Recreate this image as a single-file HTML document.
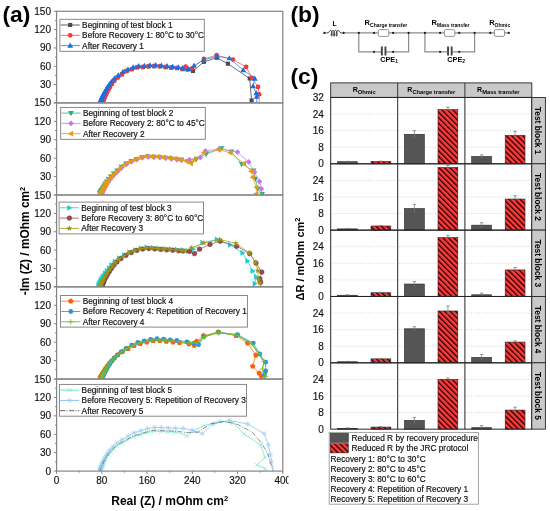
<!DOCTYPE html>
<html><head><meta charset="utf-8"><title>Figure</title><style>html,body{margin:0;padding:0;background:#fff}svg{display:block}</style></head><body>
<svg width="550" height="511" viewBox="0 0 550 511" font-family="'Liberation Sans', Arial, sans-serif">
<rect width="550" height="511" fill="#fff"/>
<defs>
<clipPath id="c0"><rect x="56.6" y="11.3" width="226.20" height="91.60"/></clipPath>
<clipPath id="c1"><rect x="56.6" y="102.9" width="226.20" height="92.10"/></clipPath>
<clipPath id="c2"><rect x="56.6" y="195.0" width="226.20" height="91.85"/></clipPath>
<clipPath id="c3"><rect x="56.6" y="286.85" width="226.20" height="92.20"/></clipPath>
<clipPath id="c4"><rect x="56.6" y="379.05" width="226.20" height="92.05"/></clipPath>
<pattern id="hatch" patternUnits="userSpaceOnUse" width="3.9" height="3.9" patternTransform="rotate(-45)"><rect width="3.9" height="3.9" fill="#ff3a3a"/><rect x="0" y="0" width="1.3" height="3.9" fill="#1a0000"/></pattern>
<clipPath id="cl400"><rect x="0" y="0" width="288.6" height="511"/></clipPath>
</defs>
<text x="2.4" y="22.1" font-size="22.8" font-weight="bold">(a)</text>
<g clip-path="url(#c0)">
<path d="M101.10 104.50 L101.28 102.03 L104.50 94.80 L107.93 88.72 L111.45 83.42 L114.42 79.94 L117.97 76.86 L121.45 74.64 L124.81 71.65 L130.50 69.80 L135.90 67.40 L142.90 67.20 L148.30 66.50 L154.00 66.30 L159.70 66.40 L165.50 67.20 L171.20 67.70 L176.90 68.10 L182.70 69.20 L187.50 69.50 L193.00 71.00 L203.90 61.80 L216.80 57.80 L227.90 63.70 L249.70 78.50 L251.60 100.40 L251.80 104.00" fill="none" stroke="#4a4a4a" stroke-width="0.8"/>
<rect x="99.48" y="99.44" width="4.08" height="4.08" fill="#4a4a4a"/>
<rect x="99.81" y="98.72" width="4.08" height="4.08" fill="#4a4a4a"/>
<rect x="100.18" y="97.87" width="4.08" height="4.08" fill="#4a4a4a"/>
<rect x="100.62" y="96.89" width="4.08" height="4.08" fill="#4a4a4a"/>
<rect x="101.12" y="95.76" width="4.08" height="4.08" fill="#4a4a4a"/>
<rect x="101.71" y="94.44" width="4.08" height="4.08" fill="#4a4a4a"/>
<rect x="102.39" y="92.92" width="4.08" height="4.08" fill="#4a4a4a"/>
<rect x="103.33" y="91.22" width="4.08" height="4.08" fill="#4a4a4a"/>
<rect x="104.43" y="89.26" width="4.08" height="4.08" fill="#4a4a4a"/>
<rect x="105.72" y="86.99" width="4.08" height="4.08" fill="#4a4a4a"/>
<rect x="107.37" y="84.45" width="4.08" height="4.08" fill="#4a4a4a"/>
<rect x="109.31" y="81.53" width="4.08" height="4.08" fill="#4a4a4a"/>
<rect x="111.94" y="78.42" width="4.08" height="4.08" fill="#4a4a4a"/>
<rect x="115.44" y="75.25" width="4.08" height="4.08" fill="#4a4a4a"/>
<rect x="119.93" y="72.13" width="4.08" height="4.08" fill="#4a4a4a"/>
<rect x="124.58" y="69.02" width="4.08" height="4.08" fill="#4a4a4a"/>
<rect x="129.94" y="67.10" width="4.08" height="4.08" fill="#4a4a4a"/>
<rect x="135.27" y="65.32" width="4.08" height="4.08" fill="#4a4a4a"/>
<rect x="140.97" y="65.15" width="4.08" height="4.08" fill="#4a4a4a"/>
<rect x="146.62" y="64.45" width="4.08" height="4.08" fill="#4a4a4a"/>
<rect x="152.32" y="64.27" width="4.08" height="4.08" fill="#4a4a4a"/>
<rect x="158.01" y="64.41" width="4.08" height="4.08" fill="#4a4a4a"/>
<rect x="163.66" y="65.18" width="4.08" height="4.08" fill="#4a4a4a"/>
<rect x="169.34" y="65.67" width="4.08" height="4.08" fill="#4a4a4a"/>
<rect x="175.02" y="66.09" width="4.08" height="4.08" fill="#4a4a4a"/>
<rect x="180.62" y="67.15" width="4.08" height="4.08" fill="#4a4a4a"/>
<rect x="185.46" y="67.46" width="4.08" height="4.08" fill="#4a4a4a"/>
<rect x="190.96" y="68.96" width="4.08" height="4.08" fill="#4a4a4a"/>
<rect x="201.86" y="59.76" width="4.08" height="4.08" fill="#4a4a4a"/>
<rect x="214.76" y="55.76" width="4.08" height="4.08" fill="#4a4a4a"/>
<rect x="225.86" y="61.66" width="4.08" height="4.08" fill="#4a4a4a"/>
<rect x="247.66" y="76.46" width="4.08" height="4.08" fill="#4a4a4a"/>
<rect x="249.56" y="98.36" width="4.08" height="4.08" fill="#4a4a4a"/>
<path d="M102.60 104.50 L102.76 102.02 L105.80 94.72 L109.06 88.59 L112.40 83.24 L115.23 79.73 L118.65 76.62 L121.99 74.38 L125.11 71.36 L130.50 69.50 L135.90 67.10 L142.90 66.90 L148.30 66.20 L154.00 66.00 L159.70 66.10 L165.50 66.90 L171.20 67.40 L176.90 67.80 L182.70 68.90 L185.70 66.60 L192.00 68.50 L203.90 58.90 L216.60 55.20 L233.00 59.60 L246.10 66.90 L251.90 77.80 L258.00 87.00 L259.20 94.30 L259.30 104.00" fill="none" stroke="#f46060" stroke-width="0.8"/>
<circle cx="102.93" cy="101.61" r="2.38" fill="#f23a3a"/>
<circle cx="103.23" cy="100.90" r="2.38" fill="#f23a3a"/>
<circle cx="103.57" cy="100.07" r="2.38" fill="#f23a3a"/>
<circle cx="103.97" cy="99.11" r="2.38" fill="#f23a3a"/>
<circle cx="104.44" cy="98.00" r="2.38" fill="#f23a3a"/>
<circle cx="104.97" cy="96.71" r="2.38" fill="#f23a3a"/>
<circle cx="105.60" cy="95.21" r="2.38" fill="#f23a3a"/>
<circle cx="106.44" cy="93.53" r="2.38" fill="#f23a3a"/>
<circle cx="107.46" cy="91.60" r="2.38" fill="#f23a3a"/>
<circle cx="108.64" cy="89.37" r="2.38" fill="#f23a3a"/>
<circle cx="110.15" cy="86.85" r="2.38" fill="#f23a3a"/>
<circle cx="111.95" cy="83.96" r="2.38" fill="#f23a3a"/>
<circle cx="114.35" cy="80.82" r="2.38" fill="#f23a3a"/>
<circle cx="117.58" cy="77.59" r="2.38" fill="#f23a3a"/>
<circle cx="121.87" cy="74.47" r="2.38" fill="#f23a3a"/>
<circle cx="126.25" cy="70.97" r="2.38" fill="#f23a3a"/>
<circle cx="131.60" cy="69.01" r="2.38" fill="#f23a3a"/>
<circle cx="136.90" cy="67.07" r="2.38" fill="#f23a3a"/>
<circle cx="142.60" cy="66.91" r="2.38" fill="#f23a3a"/>
<circle cx="148.25" cy="66.21" r="2.38" fill="#f23a3a"/>
<circle cx="153.95" cy="66.00" r="2.38" fill="#f23a3a"/>
<circle cx="159.65" cy="66.10" r="2.38" fill="#f23a3a"/>
<circle cx="165.29" cy="66.87" r="2.38" fill="#f23a3a"/>
<circle cx="170.97" cy="67.38" r="2.38" fill="#f23a3a"/>
<circle cx="176.66" cy="67.78" r="2.38" fill="#f23a3a"/>
<circle cx="182.26" cy="68.82" r="2.38" fill="#f23a3a"/>
<circle cx="185.70" cy="66.60" r="2.38" fill="#f23a3a"/>
<circle cx="192.00" cy="68.50" r="2.38" fill="#f23a3a"/>
<circle cx="203.90" cy="58.90" r="2.38" fill="#f23a3a"/>
<circle cx="216.60" cy="55.20" r="2.38" fill="#f23a3a"/>
<circle cx="233.00" cy="59.60" r="2.38" fill="#f23a3a"/>
<circle cx="246.10" cy="66.90" r="2.38" fill="#f23a3a"/>
<circle cx="251.90" cy="77.80" r="2.38" fill="#f23a3a"/>
<circle cx="258.00" cy="87.00" r="2.38" fill="#f23a3a"/>
<circle cx="259.20" cy="94.30" r="2.38" fill="#f23a3a"/>
<path d="M99.60 104.50 L99.80 102.00 L103.20 94.50 L106.80 88.20 L110.50 82.70 L113.60 79.10 L117.30 75.90 L120.90 73.60 L124.50 70.50 L130.50 68.60 L135.90 66.20 L142.90 66.00 L148.30 65.30 L154.00 65.10 L159.70 65.20 L165.50 66.00 L171.20 66.50 L176.90 66.90 L182.70 68.00 L188.60 69.10 L194.00 65.50 L203.60 59.90 L217.00 56.40 L229.40 58.20 L243.20 70.10 L254.80 78.50 L253.10 86.10 L256.30 93.10 L256.60 96.70 L256.80 104.00" fill="none" stroke="#3d86e6" stroke-width="0.8"/>
<polygon points="99.92,98.69 102.81,103.85 97.04,103.85" fill="#1a6fdf"/>
<polygon points="100.23,98.01 103.12,103.17 97.35,103.17" fill="#1a6fdf"/>
<polygon points="100.59,97.22 103.48,102.38 97.71,102.38" fill="#1a6fdf"/>
<polygon points="101.01,96.30 103.89,101.46 98.12,101.46" fill="#1a6fdf"/>
<polygon points="101.49,95.24 104.37,100.40 98.60,100.40" fill="#1a6fdf"/>
<polygon points="102.05,94.01 104.93,99.17 99.16,99.17" fill="#1a6fdf"/>
<polygon points="102.70,92.57 105.58,97.74 99.81,97.74" fill="#1a6fdf"/>
<polygon points="103.50,90.94 106.38,96.10 100.61,96.10" fill="#1a6fdf"/>
<polygon points="104.55,89.11 107.43,94.27 101.66,94.27" fill="#1a6fdf"/>
<polygon points="105.76,86.98 108.65,92.14 102.88,92.14" fill="#1a6fdf"/>
<polygon points="107.22,84.54 110.11,89.70 104.34,89.70" fill="#1a6fdf"/>
<polygon points="109.06,81.80 111.95,86.96 106.18,86.96" fill="#1a6fdf"/>
<polygon points="111.32,78.71 114.20,83.87 108.44,83.87" fill="#1a6fdf"/>
<polygon points="114.32,75.45 117.20,80.61 111.43,80.61" fill="#1a6fdf"/>
<polygon points="118.32,72.22 121.20,77.38 115.43,77.38" fill="#1a6fdf"/>
<polygon points="122.89,68.85 125.78,74.01 120.01,74.01" fill="#1a6fdf"/>
<polygon points="127.91,66.38 130.80,71.54 125.03,71.54" fill="#1a6fdf"/>
<polygon points="133.23,64.35 136.11,69.51 130.35,69.51" fill="#1a6fdf"/>
<polygon points="138.68,63.08 141.56,68.25 135.79,68.25" fill="#1a6fdf"/>
<polygon points="144.36,62.77 147.25,67.94 141.48,67.94" fill="#1a6fdf"/>
<polygon points="150.03,62.20 152.91,67.36 147.15,67.36" fill="#1a6fdf"/>
<polygon points="155.73,62.09 158.61,67.26 152.84,67.26" fill="#1a6fdf"/>
<polygon points="161.41,62.40 164.29,67.56 158.53,67.56" fill="#1a6fdf"/>
<polygon points="167.07,63.10 169.95,68.26 164.18,68.26" fill="#1a6fdf"/>
<polygon points="172.75,63.57 175.63,68.73 169.86,68.73" fill="#1a6fdf"/>
<polygon points="178.41,64.15 181.29,69.31 175.52,69.31" fill="#1a6fdf"/>
<polygon points="182.70,64.96 185.58,70.13 179.82,70.13" fill="#1a6fdf"/>
<polygon points="188.60,66.06 191.48,71.23 185.72,71.23" fill="#1a6fdf"/>
<polygon points="194.00,62.46 196.88,67.63 191.12,67.63" fill="#1a6fdf"/>
<polygon points="203.60,56.86 206.48,62.03 200.72,62.03" fill="#1a6fdf"/>
<polygon points="217.00,53.36 219.88,58.53 214.12,58.53" fill="#1a6fdf"/>
<polygon points="229.40,55.16 232.28,60.33 226.52,60.33" fill="#1a6fdf"/>
<polygon points="243.20,67.06 246.08,72.23 240.32,72.23" fill="#1a6fdf"/>
<polygon points="254.80,75.46 257.68,80.63 251.92,80.63" fill="#1a6fdf"/>
<polygon points="253.10,83.06 255.98,88.23 250.22,88.23" fill="#1a6fdf"/>
<polygon points="256.30,90.06 259.18,95.23 253.42,95.23" fill="#1a6fdf"/>
<polygon points="256.60,93.66 259.48,98.83 253.72,98.83" fill="#1a6fdf"/>
</g>
<g clip-path="url(#c1)">
<path d="M99.60 196.50 L99.61 194.21 L100.33 192.03 L102.97 187.56 L105.11 183.90 L107.74 180.33 L110.69 176.66 L114.34 173.09 L118.39 169.52 L122.66 165.85 L127.64 162.78 L132.95 160.50 L139.00 158.30 L145.10 156.30 L151.10 156.80 L157.20 157.00 L163.20 157.60 L169.30 158.30 L175.30 159.10 L181.40 160.00 L187.50 161.30 L191.50 162.80 L196.60 159.00 L206.10 154.20 L221.40 148.40 L231.50 151.70 L241.70 164.10 L253.40 170.60 L255.50 178.90 L257.70 188.80 L262.10 194.10 L262.50 197.00" fill="none" stroke="#37c08a" stroke-width="0.8"/>
<polygon points="99.79,196.67 102.68,191.51 96.91,191.51" fill="#22b07a"/>
<polygon points="100.04,195.92 102.93,190.76 97.16,190.76" fill="#22b07a"/>
<polygon points="100.34,195.04 103.22,189.88 97.45,189.88" fill="#22b07a"/>
<polygon points="100.88,194.12 103.77,188.96 98.00,188.96" fill="#22b07a"/>
<polygon points="101.52,193.05 104.40,187.89 98.63,187.89" fill="#22b07a"/>
<polygon points="102.25,191.81 105.14,186.65 99.37,186.65" fill="#22b07a"/>
<polygon points="103.10,190.37 105.99,185.21 100.22,185.21" fill="#22b07a"/>
<polygon points="104.08,188.70 106.96,183.53 101.19,183.53" fill="#22b07a"/>
<polygon points="105.23,186.76 108.11,181.60 102.34,181.60" fill="#22b07a"/>
<polygon points="106.78,184.67 109.66,179.51 103.90,179.51" fill="#22b07a"/>
<polygon points="108.62,182.27 111.51,177.11 105.74,177.11" fill="#22b07a"/>
<polygon points="110.84,179.54 113.73,174.38 107.96,174.38" fill="#22b07a"/>
<polygon points="113.75,176.70 116.64,171.53 110.87,171.53" fill="#22b07a"/>
<polygon points="117.27,173.54 120.15,168.38 114.39,168.38" fill="#22b07a"/>
<polygon points="121.42,169.96 124.30,164.80 118.53,164.80" fill="#22b07a"/>
<polygon points="126.20,166.70 129.08,161.54 123.32,161.54" fill="#22b07a"/>
<polygon points="131.41,164.20 134.30,159.03 128.53,159.03" fill="#22b07a"/>
<polygon points="136.83,162.12 139.71,156.96 133.95,156.96" fill="#22b07a"/>
<polygon points="142.32,160.25 145.20,155.09 139.43,155.09" fill="#22b07a"/>
<polygon points="147.96,159.57 150.85,154.41 145.08,154.41" fill="#22b07a"/>
<polygon points="153.75,159.92 156.63,154.76 150.87,154.76" fill="#22b07a"/>
<polygon points="159.54,160.27 162.42,155.11 156.65,155.11" fill="#22b07a"/>
<polygon points="165.30,160.88 168.19,155.72 162.42,155.72" fill="#22b07a"/>
<polygon points="171.06,161.57 173.95,156.41 168.18,156.41" fill="#22b07a"/>
<polygon points="176.81,162.36 179.69,157.20 173.92,157.20" fill="#22b07a"/>
<polygon points="181.40,163.04 184.28,157.87 178.52,157.87" fill="#22b07a"/>
<polygon points="187.50,164.34 190.38,159.17 184.62,159.17" fill="#22b07a"/>
<polygon points="191.50,165.84 194.38,160.67 188.62,160.67" fill="#22b07a"/>
<polygon points="196.60,162.04 199.48,156.87 193.72,156.87" fill="#22b07a"/>
<polygon points="206.10,157.24 208.98,152.07 203.22,152.07" fill="#22b07a"/>
<polygon points="221.40,151.44 224.28,146.27 218.52,146.27" fill="#22b07a"/>
<polygon points="231.50,154.74 234.38,149.57 228.62,149.57" fill="#22b07a"/>
<polygon points="241.70,167.14 244.58,161.97 238.82,161.97" fill="#22b07a"/>
<polygon points="253.40,173.64 256.28,168.47 250.52,168.47" fill="#22b07a"/>
<polygon points="255.50,181.94 258.38,176.77 252.62,176.77" fill="#22b07a"/>
<polygon points="257.70,191.84 260.58,186.67 254.82,186.67" fill="#22b07a"/>
<polygon points="262.10,197.14 264.98,191.97 259.22,191.97" fill="#22b07a"/>
<path d="M101.70 196.50 L101.68 194.21 L102.33 192.04 L104.83 187.61 L106.84 183.96 L109.34 180.41 L112.13 176.76 L115.61 173.22 L119.47 169.67 L123.50 166.02 L128.20 162.96 L133.11 160.70 L139.00 158.50 L145.10 156.50 L151.10 157.00 L157.20 157.20 L163.20 157.80 L169.30 158.50 L175.30 159.30 L181.40 160.20 L189.40 159.70 L200.30 157.50 L205.40 151.00 L219.20 148.80 L237.40 152.10 L248.70 161.90 L254.50 172.10 L259.50 181.50 L261.40 188.80 L262.00 197.00" fill="none" stroke="#c98ae8" stroke-width="0.8"/>
<polygon points="101.81,190.91 104.69,193.78 101.81,196.66 98.94,193.78" fill="#c479e8"/>
<polygon points="102.03,190.17 104.91,193.04 102.03,195.92 99.16,193.04" fill="#c479e8"/>
<polygon points="102.29,189.31 105.17,192.18 102.29,195.06 99.42,192.18" fill="#c479e8"/>
<polygon points="102.77,188.39 105.65,191.27 102.77,194.14 99.90,191.27" fill="#c479e8"/>
<polygon points="103.36,187.34 106.24,190.22 103.36,193.09 100.49,190.22" fill="#c479e8"/>
<polygon points="104.05,186.12 106.92,189.00 104.05,191.87 101.17,189.00" fill="#c479e8"/>
<polygon points="104.84,184.71 107.72,187.58 104.84,190.46 101.97,187.58" fill="#c479e8"/>
<polygon points="105.75,183.06 108.62,185.94 105.75,188.81 102.87,185.94" fill="#c479e8"/>
<polygon points="106.80,181.15 109.68,184.02 106.80,186.90 103.93,184.02" fill="#c479e8"/>
<polygon points="108.25,179.08 111.13,181.95 108.25,184.83 105.38,181.95" fill="#c479e8"/>
<polygon points="109.98,176.70 112.85,179.58 109.98,182.45 107.10,179.58" fill="#c479e8"/>
<polygon points="112.05,174.00 114.92,176.87 112.05,179.75 109.17,176.87" fill="#c479e8"/>
<polygon points="114.80,171.17 117.68,174.04 114.80,176.92 111.93,174.04" fill="#c479e8"/>
<polygon points="118.13,168.02 121.01,170.90 118.13,173.77 115.26,170.90" fill="#c479e8"/>
<polygon points="122.07,164.44 124.94,167.32 122.07,170.19 119.19,167.32" fill="#c479e8"/>
<polygon points="126.74,161.04 129.62,163.91 126.74,166.79 123.87,163.91" fill="#c479e8"/>
<polygon points="131.89,158.39 134.76,161.26 131.89,164.14 129.01,161.26" fill="#c479e8"/>
<polygon points="137.28,156.27 140.16,159.14 137.28,162.02 134.41,159.14" fill="#c479e8"/>
<polygon points="142.77,154.39 145.64,157.26 142.77,160.14 139.89,157.26" fill="#c479e8"/>
<polygon points="148.43,153.90 151.31,156.78 148.43,159.65 145.56,156.78" fill="#c479e8"/>
<polygon points="154.22,154.23 157.10,157.10 154.22,159.98 151.35,157.10" fill="#c479e8"/>
<polygon points="160.01,154.61 162.88,157.48 160.01,160.36 157.13,157.48" fill="#c479e8"/>
<polygon points="165.77,155.22 168.65,158.10 165.77,160.97 162.90,158.10" fill="#c479e8"/>
<polygon points="171.53,155.92 174.41,158.80 171.53,161.67 168.66,158.80" fill="#c479e8"/>
<polygon points="177.28,156.72 180.15,159.59 177.28,162.47 174.40,159.59" fill="#c479e8"/>
<polygon points="181.40,157.32 184.28,160.20 181.40,163.07 178.53,160.20" fill="#c479e8"/>
<polygon points="189.40,156.83 192.28,159.70 189.40,162.58 186.53,159.70" fill="#c479e8"/>
<polygon points="200.30,154.62 203.18,157.50 200.30,160.38 197.43,157.50" fill="#c479e8"/>
<polygon points="205.40,148.12 208.28,151.00 205.40,153.88 202.53,151.00" fill="#c479e8"/>
<polygon points="219.20,145.93 222.07,148.80 219.20,151.68 216.32,148.80" fill="#c479e8"/>
<polygon points="237.40,149.23 240.28,152.10 237.40,154.98 234.53,152.10" fill="#c479e8"/>
<polygon points="248.70,159.03 251.57,161.90 248.70,164.78 245.82,161.90" fill="#c479e8"/>
<polygon points="254.50,169.23 257.38,172.10 254.50,174.98 251.62,172.10" fill="#c479e8"/>
<polygon points="259.50,178.62 262.38,181.50 259.50,184.38 256.62,181.50" fill="#c479e8"/>
<polygon points="261.40,185.93 264.27,188.80 261.40,191.68 258.52,188.80" fill="#c479e8"/>
<path d="M100.20 196.50 L100.20 194.20 L100.90 192.00 L103.50 187.50 L105.60 183.80 L108.20 180.20 L111.10 176.50 L114.70 172.90 L118.70 169.30 L122.90 165.60 L127.80 162.50 L133.00 160.20 L139.00 158.00 L145.10 156.00 L151.10 156.50 L157.20 156.70 L163.20 157.30 L169.30 158.00 L175.30 158.80 L181.40 159.70 L186.50 161.20 L190.80 163.30 L194.50 159.70 L203.90 152.70 L218.70 149.80 L230.10 152.70 L243.90 163.30 L251.20 171.30 L252.60 177.20 L256.30 187.30 L256.30 193.80 L256.30 197.00" fill="none" stroke="#e8a42a" stroke-width="0.8"/>
<polygon points="97.25,193.91 102.42,191.03 102.42,196.80" fill="#e59a10"/>
<polygon points="97.48,193.20 102.64,190.32 102.64,196.09" fill="#e59a10"/>
<polygon points="97.74,192.37 102.91,189.49 102.91,195.26" fill="#e59a10"/>
<polygon points="98.17,191.47 103.33,188.58 103.33,194.35" fill="#e59a10"/>
<polygon points="98.76,190.46 103.92,187.57 103.92,193.34" fill="#e59a10"/>
<polygon points="99.43,189.29 104.59,186.40 104.59,192.17" fill="#e59a10"/>
<polygon points="100.22,187.92 105.38,185.04 105.38,190.81" fill="#e59a10"/>
<polygon points="101.12,186.34 106.28,183.46 106.28,189.23" fill="#e59a10"/>
<polygon points="102.16,184.50 107.33,181.62 107.33,187.39" fill="#e59a10"/>
<polygon points="103.53,182.47 108.69,179.58 108.69,185.35" fill="#e59a10"/>
<polygon points="105.19,180.16 110.35,177.28 110.35,183.05" fill="#e59a10"/>
<polygon points="107.23,177.57 112.39,174.68 112.39,180.45" fill="#e59a10"/>
<polygon points="109.81,174.75 114.97,171.87 114.97,177.63" fill="#e59a10"/>
<polygon points="113.02,171.68 118.18,168.80 118.18,174.56" fill="#e59a10"/>
<polygon points="116.86,168.25 122.02,165.36 122.02,171.13" fill="#e59a10"/>
<polygon points="121.38,164.64 126.54,161.76 126.54,167.52" fill="#e59a10"/>
<polygon points="126.41,161.77 131.57,158.89 131.57,164.66" fill="#e59a10"/>
<polygon points="131.76,159.54 136.92,156.66 136.92,162.43" fill="#e59a10"/>
<polygon points="137.22,157.59 142.38,154.70 142.38,160.47" fill="#e59a10"/>
<polygon points="142.76,156.06 147.92,153.17 147.92,158.94" fill="#e59a10"/>
<polygon points="148.54,156.52 153.70,153.63 153.70,159.40" fill="#e59a10"/>
<polygon points="154.34,156.72 159.50,153.83 159.50,159.60" fill="#e59a10"/>
<polygon points="160.11,157.29 165.27,154.41 165.27,160.18" fill="#e59a10"/>
<polygon points="165.87,157.96 171.03,155.07 171.03,160.84" fill="#e59a10"/>
<polygon points="171.62,158.71 176.78,155.83 176.78,161.60" fill="#e59a10"/>
<polygon points="177.36,159.55 182.52,156.67 182.52,162.44" fill="#e59a10"/>
<polygon points="183.46,161.20 188.63,158.32 188.63,164.08" fill="#e59a10"/>
<polygon points="187.76,163.30 192.93,160.42 192.93,166.18" fill="#e59a10"/>
<polygon points="191.46,159.70 196.63,156.82 196.63,162.58" fill="#e59a10"/>
<polygon points="200.86,152.70 206.03,149.82 206.03,155.58" fill="#e59a10"/>
<polygon points="215.66,149.80 220.83,146.92 220.83,152.68" fill="#e59a10"/>
<polygon points="227.06,152.70 232.23,149.82 232.23,155.58" fill="#e59a10"/>
<polygon points="240.86,163.30 246.03,160.42 246.03,166.18" fill="#e59a10"/>
<polygon points="248.16,171.30 253.33,168.42 253.33,174.18" fill="#e59a10"/>
<polygon points="249.56,177.20 254.73,174.32 254.73,180.08" fill="#e59a10"/>
<polygon points="253.26,187.30 258.43,184.42 258.43,190.18" fill="#e59a10"/>
<polygon points="253.26,193.80 258.43,190.92 258.43,196.68" fill="#e59a10"/>
</g>
<g clip-path="url(#c2)">
<path d="M98.20 288.50 L98.22 286.19 L101.85 278.43 L106.50 271.37 L111.89 264.41 L117.36 259.27 L122.81 255.74 L128.35 252.61 L134.70 250.20 L140.80 248.40 L146.80 247.50 L152.00 247.80 L158.00 248.30 L164.10 248.80 L170.10 249.10 L176.20 249.70 L183.10 250.20 L188.00 251.00 L193.00 249.20 L202.50 242.70 L217.00 239.50 L230.10 244.90 L242.50 252.90 L247.50 260.90 L252.60 271.00 L256.30 276.90 L254.80 283.60 L254.50 289.00" fill="none" stroke="#35d0d8" stroke-width="0.8"/>
<polygon points="101.51,285.65 96.35,282.77 96.35,288.54" fill="#19cdd6"/>
<polygon points="101.85,284.93 96.69,282.05 96.69,287.81" fill="#19cdd6"/>
<polygon points="102.24,284.09 97.08,281.21 97.08,286.98" fill="#19cdd6"/>
<polygon points="102.69,283.12 97.53,280.24 97.53,286.01" fill="#19cdd6"/>
<polygon points="103.22,282.00 98.06,279.11 98.06,284.88" fill="#19cdd6"/>
<polygon points="103.83,280.69 98.67,277.81 98.67,283.58" fill="#19cdd6"/>
<polygon points="104.54,279.18 99.38,276.29 99.38,282.06" fill="#19cdd6"/>
<polygon points="105.50,277.50 100.34,274.62 100.34,280.39" fill="#19cdd6"/>
<polygon points="106.74,275.62 101.58,272.74 101.58,278.51" fill="#19cdd6"/>
<polygon points="108.17,273.44 103.01,270.56 103.01,276.33" fill="#19cdd6"/>
<polygon points="109.87,270.94 104.71,268.05 104.71,273.82" fill="#19cdd6"/>
<polygon points="112.02,268.16 106.86,265.28 106.86,271.05" fill="#19cdd6"/>
<polygon points="114.52,264.94 109.35,262.06 109.35,267.83" fill="#19cdd6"/>
<polygon points="117.88,261.63 112.72,258.75 112.72,264.52" fill="#19cdd6"/>
<polygon points="122.10,258.16 116.94,255.28 116.94,261.05" fill="#19cdd6"/>
<polygon points="127.18,254.98 122.02,252.10 122.02,257.87" fill="#19cdd6"/>
<polygon points="132.48,252.19 127.32,249.31 127.32,255.08" fill="#19cdd6"/>
<polygon points="138.10,250.09 132.94,247.21 132.94,252.98" fill="#19cdd6"/>
<polygon points="143.86,248.40 138.69,245.51 138.69,251.28" fill="#19cdd6"/>
<polygon points="149.79,247.51 144.63,244.62 144.63,250.39" fill="#19cdd6"/>
<polygon points="155.78,247.86 150.62,244.98 150.62,250.75" fill="#19cdd6"/>
<polygon points="161.76,248.36 156.60,245.47 156.60,251.24" fill="#19cdd6"/>
<polygon points="167.74,248.83 162.58,245.95 162.58,251.71" fill="#19cdd6"/>
<polygon points="173.73,249.16 168.57,246.27 168.57,252.04" fill="#19cdd6"/>
<polygon points="179.70,249.73 174.54,246.85 174.54,252.62" fill="#19cdd6"/>
<polygon points="185.68,250.17 180.52,247.28 180.52,253.05" fill="#19cdd6"/>
<polygon points="191.04,251.00 185.87,248.12 185.87,253.88" fill="#19cdd6"/>
<polygon points="196.04,249.20 190.87,246.32 190.87,252.08" fill="#19cdd6"/>
<polygon points="205.54,242.70 200.37,239.82 200.37,245.58" fill="#19cdd6"/>
<polygon points="220.04,239.50 214.87,236.62 214.87,242.38" fill="#19cdd6"/>
<polygon points="233.14,244.90 227.97,242.02 227.97,247.78" fill="#19cdd6"/>
<polygon points="245.54,252.90 240.37,250.02 240.37,255.78" fill="#19cdd6"/>
<polygon points="250.54,260.90 245.37,258.02 245.37,263.78" fill="#19cdd6"/>
<polygon points="255.64,271.00 250.47,268.12 250.47,273.88" fill="#19cdd6"/>
<polygon points="259.34,276.90 254.17,274.02 254.17,279.78" fill="#19cdd6"/>
<polygon points="257.84,283.60 252.67,280.72 252.67,286.48" fill="#19cdd6"/>
<path d="M101.70 288.50 L101.69 286.21 L104.91 278.64 L109.12 271.76 L114.01 264.98 L119.00 259.97 L124.02 256.53 L128.97 253.48 L134.70 251.10 L140.80 249.30 L146.80 248.40 L152.00 248.70 L158.00 249.20 L164.10 249.70 L170.10 250.00 L176.20 250.60 L183.10 251.10 L189.40 251.40 L194.50 253.60 L199.50 249.20 L210.00 244.40 L220.20 241.20 L236.60 246.30 L249.70 253.60 L256.00 263.00 L261.80 272.10 L259.90 278.80 L260.60 282.20 L260.80 289.00" fill="none" stroke="#a56068" stroke-width="0.8"/>
<circle cx="101.86" cy="285.80" r="2.38" fill="#9a4a52" stroke="#5a3030" stroke-width="0.4"/>
<circle cx="102.16" cy="285.09" r="2.38" fill="#9a4a52" stroke="#5a3030" stroke-width="0.4"/>
<circle cx="102.52" cy="284.26" r="2.38" fill="#9a4a52" stroke="#5a3030" stroke-width="0.4"/>
<circle cx="102.92" cy="283.31" r="2.38" fill="#9a4a52" stroke="#5a3030" stroke-width="0.4"/>
<circle cx="103.39" cy="282.20" r="2.38" fill="#9a4a52" stroke="#5a3030" stroke-width="0.4"/>
<circle cx="103.94" cy="280.91" r="2.38" fill="#9a4a52" stroke="#5a3030" stroke-width="0.4"/>
<circle cx="104.58" cy="279.42" r="2.38" fill="#9a4a52" stroke="#5a3030" stroke-width="0.4"/>
<circle cx="105.45" cy="277.76" r="2.38" fill="#9a4a52" stroke="#5a3030" stroke-width="0.4"/>
<circle cx="106.59" cy="275.90" r="2.38" fill="#9a4a52" stroke="#5a3030" stroke-width="0.4"/>
<circle cx="107.91" cy="273.74" r="2.38" fill="#9a4a52" stroke="#5a3030" stroke-width="0.4"/>
<circle cx="109.48" cy="271.26" r="2.38" fill="#9a4a52" stroke="#5a3030" stroke-width="0.4"/>
<circle cx="111.47" cy="268.50" r="2.38" fill="#9a4a52" stroke="#5a3030" stroke-width="0.4"/>
<circle cx="113.78" cy="265.29" r="2.38" fill="#9a4a52" stroke="#5a3030" stroke-width="0.4"/>
<circle cx="116.97" cy="262.01" r="2.38" fill="#9a4a52" stroke="#5a3030" stroke-width="0.4"/>
<circle cx="121.01" cy="258.59" r="2.38" fill="#9a4a52" stroke="#5a3030" stroke-width="0.4"/>
<circle cx="126.02" cy="255.29" r="2.38" fill="#9a4a52" stroke="#5a3030" stroke-width="0.4"/>
<circle cx="131.32" cy="252.51" r="2.38" fill="#9a4a52" stroke="#5a3030" stroke-width="0.4"/>
<circle cx="136.94" cy="250.44" r="2.38" fill="#9a4a52" stroke="#5a3030" stroke-width="0.4"/>
<circle cx="142.75" cy="249.01" r="2.38" fill="#9a4a52" stroke="#5a3030" stroke-width="0.4"/>
<circle cx="148.70" cy="248.51" r="2.38" fill="#9a4a52" stroke="#5a3030" stroke-width="0.4"/>
<circle cx="154.69" cy="248.92" r="2.38" fill="#9a4a52" stroke="#5a3030" stroke-width="0.4"/>
<circle cx="160.67" cy="249.42" r="2.38" fill="#9a4a52" stroke="#5a3030" stroke-width="0.4"/>
<circle cx="166.65" cy="249.83" r="2.38" fill="#9a4a52" stroke="#5a3030" stroke-width="0.4"/>
<circle cx="172.64" cy="250.25" r="2.38" fill="#9a4a52" stroke="#5a3030" stroke-width="0.4"/>
<circle cx="178.61" cy="250.77" r="2.38" fill="#9a4a52" stroke="#5a3030" stroke-width="0.4"/>
<circle cx="183.10" cy="251.10" r="2.38" fill="#9a4a52" stroke="#5a3030" stroke-width="0.4"/>
<circle cx="189.40" cy="251.40" r="2.38" fill="#9a4a52" stroke="#5a3030" stroke-width="0.4"/>
<circle cx="194.50" cy="253.60" r="2.38" fill="#9a4a52" stroke="#5a3030" stroke-width="0.4"/>
<circle cx="199.50" cy="249.20" r="2.38" fill="#9a4a52" stroke="#5a3030" stroke-width="0.4"/>
<circle cx="210.00" cy="244.40" r="2.38" fill="#9a4a52" stroke="#5a3030" stroke-width="0.4"/>
<circle cx="220.20" cy="241.20" r="2.38" fill="#9a4a52" stroke="#5a3030" stroke-width="0.4"/>
<circle cx="236.60" cy="246.30" r="2.38" fill="#9a4a52" stroke="#5a3030" stroke-width="0.4"/>
<circle cx="249.70" cy="253.60" r="2.38" fill="#9a4a52" stroke="#5a3030" stroke-width="0.4"/>
<circle cx="256.00" cy="263.00" r="2.38" fill="#9a4a52" stroke="#5a3030" stroke-width="0.4"/>
<circle cx="261.80" cy="272.10" r="2.38" fill="#9a4a52" stroke="#5a3030" stroke-width="0.4"/>
<circle cx="259.90" cy="278.80" r="2.38" fill="#9a4a52" stroke="#5a3030" stroke-width="0.4"/>
<circle cx="260.60" cy="282.20" r="2.38" fill="#9a4a52" stroke="#5a3030" stroke-width="0.4"/>
<path d="M100.20 288.50 L100.20 286.20 L103.60 278.50 L108.00 271.50 L113.10 264.60 L118.30 259.50 L123.50 256.00 L128.70 252.90 L134.70 250.50 L140.80 248.70 L146.80 247.80 L152.00 248.10 L158.00 248.60 L164.10 249.10 L170.10 249.40 L176.20 250.00 L183.10 250.50 L185.00 250.70 L191.50 247.80 L203.90 243.00 L219.60 239.50 L235.90 243.40 L249.00 252.90 L255.50 262.30 L257.70 270.60 L258.50 279.80 L259.90 282.90 L260.50 289.00" fill="none" stroke="#a3a320" stroke-width="0.8"/>
<polygon points="100.32,282.81 101.09,284.87 103.29,284.96 101.56,286.33 102.16,288.45 100.32,287.23 98.49,288.45 99.08,286.33 97.35,284.96 99.56,284.87" fill="#9a9a10"/>
<polygon points="100.62,282.12 101.39,284.19 103.59,284.28 101.86,285.64 102.46,287.77 100.62,286.54 98.79,287.77 99.39,285.64 97.66,284.28 99.86,284.19" fill="#9a9a10"/>
<polygon points="100.97,281.33 101.74,283.40 103.94,283.48 102.21,284.85 102.81,286.97 100.97,285.75 99.14,286.97 99.74,284.85 98.01,283.48 100.21,283.40" fill="#9a9a10"/>
<polygon points="101.38,280.41 102.14,282.48 104.35,282.56 102.62,283.93 103.21,286.05 101.38,284.83 99.55,286.05 100.14,283.93 98.41,282.56 100.62,282.48" fill="#9a9a10"/>
<polygon points="101.85,279.34 102.62,281.41 104.82,281.49 103.09,282.86 103.69,284.98 101.85,283.76 100.02,284.98 100.62,282.86 98.88,281.49 101.09,281.41" fill="#9a9a10"/>
<polygon points="102.40,278.10 103.16,280.17 105.37,280.26 103.64,281.62 104.23,283.74 102.40,282.52 100.57,283.74 101.16,281.62 99.43,280.26 101.63,280.17" fill="#9a9a10"/>
<polygon points="103.03,276.66 103.80,278.73 106.00,278.82 104.27,280.18 104.87,282.31 103.03,281.08 101.20,282.31 101.80,280.18 100.07,278.82 102.27,278.73" fill="#9a9a10"/>
<polygon points="103.82,275.02 104.59,277.09 106.79,277.18 105.06,278.55 105.66,280.67 103.82,279.44 101.99,280.67 102.59,278.55 100.86,277.18 103.06,277.09" fill="#9a9a10"/>
<polygon points="104.95,273.23 105.71,275.30 107.92,275.39 106.19,276.76 106.78,278.88 104.95,277.65 103.11,278.88 103.71,276.76 101.98,275.39 104.18,275.30" fill="#9a9a10"/>
<polygon points="106.25,271.16 107.02,273.23 109.22,273.31 107.49,274.68 108.09,276.80 106.25,275.58 104.42,276.80 105.02,274.68 103.29,273.31 105.49,273.23" fill="#9a9a10"/>
<polygon points="107.77,268.75 108.53,270.82 110.73,270.91 109.00,272.27 109.60,274.39 107.77,273.17 105.93,274.39 106.53,272.27 104.80,270.91 107.00,270.82" fill="#9a9a10"/>
<polygon points="109.70,266.08 110.47,268.15 112.67,268.23 110.94,269.60 111.54,271.72 109.70,270.50 107.87,271.72 108.47,269.60 106.73,268.23 108.94,268.15" fill="#9a9a10"/>
<polygon points="111.98,263.00 112.74,265.07 114.94,265.16 113.21,266.52 113.81,268.64 111.98,267.42 110.14,268.64 110.74,266.52 109.01,265.16 111.21,265.07" fill="#9a9a10"/>
<polygon points="114.92,259.69 115.69,261.76 117.89,261.85 116.16,263.22 116.75,265.34 114.92,264.11 113.09,265.34 113.68,263.22 111.95,261.85 114.16,261.76" fill="#9a9a10"/>
<polygon points="118.65,256.15 119.41,258.22 121.61,258.30 119.88,259.67 120.48,261.79 118.65,260.57 116.81,261.79 117.41,259.67 115.68,258.30 117.88,258.22" fill="#9a9a10"/>
<polygon points="123.61,252.82 124.37,254.88 126.57,254.97 124.84,256.34 125.44,258.46 123.61,257.24 121.77,258.46 122.37,256.34 120.64,254.97 122.84,254.88" fill="#9a9a10"/>
<polygon points="128.77,249.75 129.53,251.82 131.73,251.91 130.00,253.28 130.60,255.40 128.77,254.17 126.93,255.40 127.53,253.28 125.80,251.91 128.00,251.82" fill="#9a9a10"/>
<polygon points="134.34,247.53 135.10,249.59 137.30,249.68 135.57,251.05 136.17,253.17 134.34,251.95 132.50,253.17 133.10,251.05 131.37,249.68 133.57,249.59" fill="#9a9a10"/>
<polygon points="140.08,245.79 140.84,247.86 143.05,247.95 141.32,249.31 141.91,251.44 140.08,250.21 138.24,251.44 138.84,249.31 137.11,247.95 139.31,247.86" fill="#9a9a10"/>
<polygon points="145.99,244.80 146.75,246.87 148.96,246.96 147.23,248.32 147.82,250.45 145.99,249.22 144.16,250.45 144.75,248.32 143.02,246.96 145.23,246.87" fill="#9a9a10"/>
<polygon points="151.97,244.98 152.74,247.05 154.94,247.13 153.21,248.50 153.81,250.62 151.97,249.40 150.14,250.62 150.74,248.50 149.00,247.13 151.21,247.05" fill="#9a9a10"/>
<polygon points="157.95,245.48 158.72,247.54 160.92,247.63 159.19,249.00 159.79,251.12 157.95,249.90 156.12,251.12 156.72,249.00 154.98,247.63 157.19,247.54" fill="#9a9a10"/>
<polygon points="163.93,245.97 164.70,248.03 166.90,248.12 165.17,249.49 165.77,251.61 163.93,250.39 162.10,251.61 162.70,249.49 160.96,248.12 163.17,248.03" fill="#9a9a10"/>
<polygon points="169.92,246.27 170.69,248.34 172.89,248.43 171.16,249.79 171.76,251.92 169.92,250.69 168.09,251.92 168.69,249.79 166.96,248.43 169.16,248.34" fill="#9a9a10"/>
<polygon points="175.90,246.85 176.66,248.92 178.86,249.01 177.13,250.37 177.73,252.49 175.90,251.27 174.06,252.49 174.66,250.37 172.93,249.01 175.13,248.92" fill="#9a9a10"/>
<polygon points="181.88,247.29 182.64,249.36 184.85,249.45 183.12,250.81 183.71,252.94 181.88,251.71 180.05,252.94 180.64,250.81 178.91,249.45 181.12,249.36" fill="#9a9a10"/>
<polygon points="185.00,247.58 185.76,249.65 187.97,249.74 186.24,251.10 186.83,253.22 185.00,252.00 183.17,253.22 183.76,251.10 182.03,249.74 184.24,249.65" fill="#9a9a10"/>
<polygon points="191.50,244.68 192.26,246.75 194.47,246.84 192.74,248.20 193.33,250.32 191.50,249.10 189.67,250.32 190.26,248.20 188.53,246.84 190.74,246.75" fill="#9a9a10"/>
<polygon points="203.90,239.88 204.66,241.95 206.87,242.04 205.14,243.40 205.73,245.52 203.90,244.30 202.07,245.52 202.66,243.40 200.93,242.04 203.14,241.95" fill="#9a9a10"/>
<polygon points="219.60,236.38 220.36,238.45 222.57,238.54 220.84,239.90 221.43,242.02 219.60,240.80 217.77,242.02 218.36,239.90 216.63,238.54 218.84,238.45" fill="#9a9a10"/>
<polygon points="235.90,240.28 236.66,242.35 238.87,242.44 237.14,243.80 237.73,245.92 235.90,244.70 234.07,245.92 234.66,243.80 232.93,242.44 235.14,242.35" fill="#9a9a10"/>
<polygon points="249.00,249.78 249.76,251.85 251.97,251.94 250.24,253.30 250.83,255.42 249.00,254.20 247.17,255.42 247.76,253.30 246.03,251.94 248.24,251.85" fill="#9a9a10"/>
<polygon points="255.50,259.18 256.26,261.25 258.47,261.34 256.74,262.70 257.33,264.82 255.50,263.60 253.67,264.82 254.26,262.70 252.53,261.34 254.74,261.25" fill="#9a9a10"/>
<polygon points="257.70,267.48 258.46,269.55 260.67,269.64 258.94,271.00 259.53,273.12 257.70,271.90 255.87,273.12 256.46,271.00 254.73,269.64 256.94,269.55" fill="#9a9a10"/>
<polygon points="258.50,276.68 259.26,278.75 261.47,278.84 259.74,280.20 260.33,282.32 258.50,281.10 256.67,282.32 257.26,280.20 255.53,278.84 257.74,278.75" fill="#9a9a10"/>
<polygon points="259.90,279.78 260.66,281.85 262.87,281.94 261.14,283.30 261.73,285.42 259.90,284.20 258.07,285.42 258.66,283.30 256.93,281.94 259.14,281.85" fill="#9a9a10"/>
</g>
<g clip-path="url(#c3)">
<path d="M99.90 380.50 L99.92 378.25 L103.63 371.73 L107.22 366.06 L112.69 359.54 L118.13 354.62 L124.37 350.56 L130.75 347.25 L136.40 344.79 L141.60 343.40 L146.80 342.20 L153.70 340.70 L160.60 340.80 L166.70 341.40 L173.60 342.20 L180.50 342.70 L188.90 343.90 L194.30 345.50 L196.60 341.30 L203.50 335.70 L218.20 332.00 L236.00 335.70 L247.60 343.10 L255.80 355.20 L252.70 366.30 L259.20 373.20 L261.50 376.60 L262.00 381.00" fill="none" stroke="#fb7a30" stroke-width="0.8"/>
<polygon points="100.22,374.87 102.94,376.84 101.90,380.04 98.54,380.04 97.50,376.84" fill="#fb6010"/>
<polygon points="100.61,374.17 103.33,376.15 102.29,379.35 98.93,379.35 97.89,376.15" fill="#fb6010"/>
<polygon points="101.07,373.37 103.79,375.35 102.75,378.54 99.39,378.54 98.35,375.35" fill="#fb6010"/>
<polygon points="101.60,372.44 104.32,374.41 103.28,377.61 99.92,377.61 98.88,374.41" fill="#fb6010"/>
<polygon points="102.21,371.36 104.93,373.33 103.89,376.53 100.53,376.53 99.49,373.33" fill="#fb6010"/>
<polygon points="102.92,370.10 105.64,372.08 104.60,375.28 101.24,375.28 100.20,372.08" fill="#fb6010"/>
<polygon points="103.76,368.66 106.48,370.63 105.44,373.83 102.08,373.83 101.04,370.63" fill="#fb6010"/>
<polygon points="104.80,367.02 107.52,369.00 106.48,372.19 103.12,372.19 102.08,369.00" fill="#fb6010"/>
<polygon points="106.00,365.12 108.72,367.10 107.68,370.29 104.32,370.29 103.28,367.10" fill="#fb6010"/>
<polygon points="107.44,362.94 110.16,364.92 109.12,368.12 105.76,368.12 104.72,364.92" fill="#fb6010"/>
<polygon points="109.38,360.62 112.10,362.60 111.06,365.80 107.70,365.80 106.66,362.60" fill="#fb6010"/>
<polygon points="111.64,357.93 114.36,359.91 113.32,363.10 109.95,363.10 108.92,359.91" fill="#fb6010"/>
<polygon points="114.49,355.04 117.21,357.02 116.18,360.22 112.81,360.22 111.77,357.02" fill="#fb6010"/>
<polygon points="118.00,351.87 120.72,353.85 119.68,357.05 116.32,357.05 115.28,353.85" fill="#fb6010"/>
<polygon points="122.58,348.87 125.30,350.84 124.26,354.04 120.90,354.04 119.86,350.84" fill="#fb6010"/>
<polygon points="128.12,345.76 130.84,347.73 129.80,350.93 126.44,350.93 125.40,347.73" fill="#fb6010"/>
<polygon points="134.08,342.94 136.80,344.92 135.76,348.12 132.40,348.12 131.36,344.92" fill="#fb6010"/>
<polygon points="140.33,340.88 143.05,342.86 142.02,346.05 138.65,346.05 137.61,342.86" fill="#fb6010"/>
<polygon points="146.75,339.35 149.47,341.33 148.44,344.52 145.07,344.52 144.03,341.33" fill="#fb6010"/>
<polygon points="153.20,337.95 155.92,339.92 154.88,343.12 151.52,343.12 150.48,339.92" fill="#fb6010"/>
<polygon points="159.79,337.93 162.51,339.90 161.47,343.10 158.11,343.10 157.07,339.90" fill="#fb6010"/>
<polygon points="166.36,338.51 169.08,340.48 168.04,343.68 164.68,343.68 163.64,340.48" fill="#fb6010"/>
<polygon points="172.92,339.26 175.64,341.24 174.60,344.43 171.24,344.43 170.20,341.24" fill="#fb6010"/>
<polygon points="179.50,339.77 182.22,341.74 181.18,344.94 177.82,344.94 176.78,341.74" fill="#fb6010"/>
<polygon points="188.90,341.04 191.62,343.02 190.58,346.21 187.22,346.21 186.18,343.02" fill="#fb6010"/>
<polygon points="194.30,342.64 197.02,344.62 195.98,347.81 192.62,347.81 191.58,344.62" fill="#fb6010"/>
<polygon points="196.60,338.44 199.32,340.42 198.28,343.61 194.92,343.61 193.88,340.42" fill="#fb6010"/>
<polygon points="203.50,332.84 206.22,334.82 205.18,338.01 201.82,338.01 200.78,334.82" fill="#fb6010"/>
<polygon points="218.20,329.14 220.92,331.12 219.88,334.31 216.52,334.31 215.48,331.12" fill="#fb6010"/>
<polygon points="236.00,332.84 238.72,334.82 237.68,338.01 234.32,338.01 233.28,334.82" fill="#fb6010"/>
<polygon points="247.60,340.24 250.32,342.22 249.28,345.41 245.92,345.41 244.88,342.22" fill="#fb6010"/>
<polygon points="255.80,352.34 258.52,354.32 257.48,357.51 254.12,357.51 253.08,354.32" fill="#fb6010"/>
<polygon points="252.70,363.44 255.42,365.42 254.38,368.61 251.02,368.61 249.98,365.42" fill="#fb6010"/>
<polygon points="259.20,370.34 261.92,372.32 260.88,375.51 257.52,375.51 256.48,372.32" fill="#fb6010"/>
<polygon points="261.50,373.74 264.22,375.72 263.18,378.91 259.82,378.91 258.78,375.72" fill="#fb6010"/>
<path d="M101.90 380.50 L101.90 378.20 L105.40 371.30 L108.80 365.30 L114.00 358.40 L119.20 353.20 L125.20 348.90 L131.30 345.40 L136.50 342.80 L141.60 341.40 L146.80 340.20 L153.70 338.70 L160.60 338.80 L166.70 339.40 L173.60 340.20 L180.50 340.70 L186.90 341.90 L193.50 343.50 L198.60 344.70 L203.90 336.70 L218.70 332.30 L237.60 334.60 L253.30 343.10 L259.70 354.00 L265.70 362.20 L265.70 371.00 L264.60 374.20 L264.50 381.00" fill="none" stroke="#3e98dc" stroke-width="0.8"/>
<circle cx="102.04" cy="377.93" r="2.38" fill="#3090d8"/>
<circle cx="102.37" cy="377.27" r="2.38" fill="#3090d8"/>
<circle cx="102.77" cy="376.49" r="2.38" fill="#3090d8"/>
<circle cx="103.22" cy="375.59" r="2.38" fill="#3090d8"/>
<circle cx="103.75" cy="374.55" r="2.38" fill="#3090d8"/>
<circle cx="104.36" cy="373.34" r="2.38" fill="#3090d8"/>
<circle cx="105.07" cy="371.94" r="2.38" fill="#3090d8"/>
<circle cx="105.94" cy="370.34" r="2.38" fill="#3090d8"/>
<circle cx="106.98" cy="368.50" r="2.38" fill="#3090d8"/>
<circle cx="108.19" cy="366.37" r="2.38" fill="#3090d8"/>
<circle cx="109.77" cy="364.01" r="2.38" fill="#3090d8"/>
<circle cx="111.76" cy="361.37" r="2.38" fill="#3090d8"/>
<circle cx="114.07" cy="358.33" r="2.38" fill="#3090d8"/>
<circle cx="117.21" cy="355.19" r="2.38" fill="#3090d8"/>
<circle cx="121.10" cy="351.84" r="2.38" fill="#3090d8"/>
<circle cx="126.01" cy="348.44" r="2.38" fill="#3090d8"/>
<circle cx="131.75" cy="345.18" r="2.38" fill="#3090d8"/>
<circle cx="137.74" cy="342.46" r="2.38" fill="#3090d8"/>
<circle cx="144.13" cy="340.82" r="2.38" fill="#3090d8"/>
<circle cx="150.57" cy="339.38" r="2.38" fill="#3090d8"/>
<circle cx="157.10" cy="338.75" r="2.38" fill="#3090d8"/>
<circle cx="163.68" cy="339.10" r="2.38" fill="#3090d8"/>
<circle cx="170.25" cy="339.81" r="2.38" fill="#3090d8"/>
<circle cx="176.81" cy="340.43" r="2.38" fill="#3090d8"/>
<circle cx="186.90" cy="341.90" r="2.38" fill="#3090d8"/>
<circle cx="193.50" cy="343.50" r="2.38" fill="#3090d8"/>
<circle cx="198.60" cy="344.70" r="2.38" fill="#3090d8"/>
<circle cx="203.90" cy="336.70" r="2.38" fill="#3090d8"/>
<circle cx="218.70" cy="332.30" r="2.38" fill="#3090d8"/>
<circle cx="237.60" cy="334.60" r="2.38" fill="#3090d8"/>
<circle cx="253.30" cy="343.10" r="2.38" fill="#3090d8"/>
<circle cx="259.70" cy="354.00" r="2.38" fill="#3090d8"/>
<circle cx="265.70" cy="362.20" r="2.38" fill="#3090d8"/>
<circle cx="265.70" cy="371.00" r="2.38" fill="#3090d8"/>
<circle cx="264.60" cy="374.20" r="2.38" fill="#3090d8"/>
<path d="M100.90 380.50 L100.91 378.22 L104.51 371.51 L108.01 365.68 L113.34 358.97 L118.66 353.91 L124.79 349.73 L131.03 346.33 L136.45 343.80 L141.60 342.40 L146.80 341.20 L153.70 339.70 L160.60 339.80 L166.70 340.40 L173.60 341.20 L180.50 341.70 L190.00 343.10 L197.50 342.60 L204.50 336.60 L218.50 332.60 L237.00 335.10 L252.00 344.10 L258.50 353.60 L264.00 361.60 L262.50 369.10 L265.50 376.50 L266.00 381.00" fill="none" stroke="#6cc02a" stroke-width="1.1"/>
<path d="M98.37 377.83H103.87M101.12 375.08V380.58" stroke="#6cc02a" stroke-width="0.8" fill="none"/>
<path d="M98.74 377.15H104.24M101.49 374.40V379.90" stroke="#6cc02a" stroke-width="0.8" fill="none"/>
<path d="M99.16 376.36H104.66M101.91 373.61V379.11" stroke="#6cc02a" stroke-width="0.8" fill="none"/>
<path d="M99.65 375.44H105.15M102.40 372.69V378.19" stroke="#6cc02a" stroke-width="0.8" fill="none"/>
<path d="M100.22 374.38H105.72M102.97 371.63V377.13" stroke="#6cc02a" stroke-width="0.8" fill="none"/>
<path d="M100.89 373.15H106.39M103.64 370.40V375.90" stroke="#6cc02a" stroke-width="0.8" fill="none"/>
<path d="M101.65 371.72H107.15M104.40 368.97V374.47" stroke="#6cc02a" stroke-width="0.8" fill="none"/>
<path d="M102.61 370.10H108.11M105.36 367.35V372.85" stroke="#6cc02a" stroke-width="0.8" fill="none"/>
<path d="M103.73 368.23H109.23M106.48 365.48V370.98" stroke="#6cc02a" stroke-width="0.8" fill="none"/>
<path d="M105.03 366.06H110.53M107.78 363.31V368.81" stroke="#6cc02a" stroke-width="0.8" fill="none"/>
<path d="M106.81 363.73H112.31M109.56 360.98V366.48" stroke="#6cc02a" stroke-width="0.8" fill="none"/>
<path d="M108.93 361.06H114.43M111.68 358.31V363.81" stroke="#6cc02a" stroke-width="0.8" fill="none"/>
<path d="M111.52 358.09H117.02M114.27 355.34V360.84" stroke="#6cc02a" stroke-width="0.8" fill="none"/>
<path d="M114.84 354.93H120.34M117.59 352.18V357.68" stroke="#6cc02a" stroke-width="0.8" fill="none"/>
<path d="M119.08 351.75H124.58M121.83 349.00V354.50" stroke="#6cc02a" stroke-width="0.8" fill="none"/>
<path d="M124.31 348.49H129.81M127.06 345.74V351.24" stroke="#6cc02a" stroke-width="0.8" fill="none"/>
<path d="M130.16 345.45H135.66M132.91 342.70V348.20" stroke="#6cc02a" stroke-width="0.8" fill="none"/>
<path d="M136.30 343.09H141.80M139.05 340.34V345.84" stroke="#6cc02a" stroke-width="0.8" fill="none"/>
<path d="M142.71 341.51H148.21M145.46 338.76V344.26" stroke="#6cc02a" stroke-width="0.8" fill="none"/>
<path d="M149.15 340.09H154.65M151.90 337.34V342.84" stroke="#6cc02a" stroke-width="0.8" fill="none"/>
<path d="M155.71 339.77H161.21M158.46 337.02V342.52" stroke="#6cc02a" stroke-width="0.8" fill="none"/>
<path d="M162.29 340.24H167.79M165.04 337.49V342.99" stroke="#6cc02a" stroke-width="0.8" fill="none"/>
<path d="M168.85 340.97H174.35M171.60 338.22V343.72" stroke="#6cc02a" stroke-width="0.8" fill="none"/>
<path d="M175.42 341.53H180.92M178.17 338.78V344.28" stroke="#6cc02a" stroke-width="0.8" fill="none"/>
<path d="M187.25 343.10H192.75M190.00 340.35V345.85" stroke="#6cc02a" stroke-width="0.8" fill="none"/>
<path d="M194.75 342.60H200.25M197.50 339.85V345.35" stroke="#6cc02a" stroke-width="0.8" fill="none"/>
<path d="M201.75 336.60H207.25M204.50 333.85V339.35" stroke="#6cc02a" stroke-width="0.8" fill="none"/>
<path d="M215.75 332.60H221.25M218.50 329.85V335.35" stroke="#6cc02a" stroke-width="0.8" fill="none"/>
<path d="M234.25 335.10H239.75M237.00 332.35V337.85" stroke="#6cc02a" stroke-width="0.8" fill="none"/>
<path d="M249.25 344.10H254.75M252.00 341.35V346.85" stroke="#6cc02a" stroke-width="0.8" fill="none"/>
<path d="M255.75 353.60H261.25M258.50 350.85V356.35" stroke="#6cc02a" stroke-width="0.8" fill="none"/>
<path d="M261.25 361.60H266.75M264.00 358.85V364.35" stroke="#6cc02a" stroke-width="0.8" fill="none"/>
<path d="M259.75 369.10H265.25M262.50 366.35V371.85" stroke="#6cc02a" stroke-width="0.8" fill="none"/>
<path d="M262.75 376.50H268.25M265.50 373.75V379.25" stroke="#6cc02a" stroke-width="0.8" fill="none"/>
</g>
<g clip-path="url(#c4)">
<path d="M100.60 472.50 L100.59 470.29 L103.77 462.55 L107.27 456.35 L111.27 451.22 L116.16 446.72 L120.49 443.85 L126.49 440.79 L132.33 437.19 L139.90 435.00 L146.80 432.80 L153.70 431.30 L161.50 431.60 L168.40 431.90 L176.20 432.30 L186.80 435.80 L194.10 430.70 L203.20 425.80 L219.50 421.30 L233.20 422.70 L244.10 434.00 L260.50 444.90 L265.00 457.60 L256.80 464.90 L265.00 468.50 L266.00 473.00" fill="none" stroke="#5ee0bb" stroke-width="0.65"/>
<path d="M98.54 467.46L103.10 472.02M98.54 472.02L103.10 467.46" stroke="#8ae8cc" stroke-width="0.7" fill="none"/>
<path d="M98.84 466.72L103.40 471.28M98.84 471.28L103.40 466.72" stroke="#8ae8cc" stroke-width="0.7" fill="none"/>
<path d="M99.19 465.87L103.75 470.43M99.19 470.43L103.75 465.87" stroke="#8ae8cc" stroke-width="0.7" fill="none"/>
<path d="M99.60 464.88L104.16 469.44M99.60 469.44L104.16 464.88" stroke="#8ae8cc" stroke-width="0.7" fill="none"/>
<path d="M100.07 463.73L104.63 468.29M100.07 468.29L104.63 463.73" stroke="#8ae8cc" stroke-width="0.7" fill="none"/>
<path d="M100.62 462.39L105.18 466.95M100.62 466.95L105.18 462.39" stroke="#8ae8cc" stroke-width="0.7" fill="none"/>
<path d="M101.26 460.85L105.82 465.41M101.26 465.41L105.82 460.85" stroke="#8ae8cc" stroke-width="0.7" fill="none"/>
<path d="M102.14 459.12L106.70 463.68M102.14 463.68L106.70 459.12" stroke="#8ae8cc" stroke-width="0.7" fill="none"/>
<path d="M103.24 457.16L107.80 461.72M103.24 461.72L107.80 457.16" stroke="#8ae8cc" stroke-width="0.7" fill="none"/>
<path d="M104.52 454.89L109.08 459.45M104.52 459.45L109.08 454.89" stroke="#8ae8cc" stroke-width="0.7" fill="none"/>
<path d="M106.27 452.43L110.83 456.99M106.27 456.99L110.83 452.43" stroke="#8ae8cc" stroke-width="0.7" fill="none"/>
<path d="M108.43 449.66L112.99 454.22M108.43 454.22L112.99 449.66" stroke="#8ae8cc" stroke-width="0.7" fill="none"/>
<path d="M111.32 446.80L115.88 451.36M111.32 451.36L115.88 446.80" stroke="#8ae8cc" stroke-width="0.7" fill="none"/>
<path d="M114.92 443.76L119.48 448.32M114.92 448.32L119.48 443.76" stroke="#8ae8cc" stroke-width="0.7" fill="none"/>
<path d="M119.57 440.87L124.13 445.43M119.57 445.43L124.13 440.87" stroke="#8ae8cc" stroke-width="0.7" fill="none"/>
<path d="M125.19 437.90L129.75 442.46M125.19 442.46L129.75 437.90" stroke="#8ae8cc" stroke-width="0.7" fill="none"/>
<path d="M131.29 434.55L135.85 439.11M131.29 439.11L135.85 434.55" stroke="#8ae8cc" stroke-width="0.7" fill="none"/>
<path d="M138.01 432.60L142.57 437.16M138.01 437.16L142.57 432.60" stroke="#8ae8cc" stroke-width="0.7" fill="none"/>
<path d="M144.68 430.48L149.24 435.04M144.68 435.04L149.24 430.48" stroke="#8ae8cc" stroke-width="0.7" fill="none"/>
<path d="M151.53 429.02L156.09 433.58M151.53 433.58L156.09 429.02" stroke="#8ae8cc" stroke-width="0.7" fill="none"/>
<path d="M158.52 429.29L163.08 433.85M158.52 433.85L163.08 429.29" stroke="#8ae8cc" stroke-width="0.7" fill="none"/>
<path d="M165.52 429.59L170.08 434.15M165.52 434.15L170.08 429.59" stroke="#8ae8cc" stroke-width="0.7" fill="none"/>
<path d="M172.51 429.95L177.07 434.51M172.51 434.51L177.07 429.95" stroke="#8ae8cc" stroke-width="0.7" fill="none"/>
<path d="M184.52 433.52L189.08 438.08M184.52 438.08L189.08 433.52" stroke="#8ae8cc" stroke-width="0.7" fill="none"/>
<path d="M191.82 428.42L196.38 432.98M191.82 432.98L196.38 428.42" stroke="#8ae8cc" stroke-width="0.7" fill="none"/>
<path d="M200.92 423.52L205.48 428.08M200.92 428.08L205.48 423.52" stroke="#8ae8cc" stroke-width="0.7" fill="none"/>
<path d="M217.22 419.02L221.78 423.58M217.22 423.58L221.78 419.02" stroke="#8ae8cc" stroke-width="0.7" fill="none"/>
<path d="M230.92 420.42L235.48 424.98M230.92 424.98L235.48 420.42" stroke="#8ae8cc" stroke-width="0.7" fill="none"/>
<path d="M241.82 431.72L246.38 436.28M241.82 436.28L246.38 431.72" stroke="#8ae8cc" stroke-width="0.7" fill="none"/>
<path d="M258.22 442.62L262.78 447.18M258.22 447.18L262.78 442.62" stroke="#8ae8cc" stroke-width="0.7" fill="none"/>
<path d="M262.72 455.32L267.28 459.88M262.72 459.88L267.28 455.32" stroke="#8ae8cc" stroke-width="0.7" fill="none"/>
<path d="M254.52 462.62L259.08 467.18M254.52 467.18L259.08 462.62" stroke="#8ae8cc" stroke-width="0.7" fill="none"/>
<path d="M262.72 466.22L267.28 470.78M262.72 470.78L267.28 466.22" stroke="#8ae8cc" stroke-width="0.7" fill="none"/>
<path d="M99.60 472.50 L99.60 470.20 L102.90 461.60 L106.50 454.70 L110.60 449.00 L115.60 444.00 L120.00 440.80 L126.10 437.40 L132.10 433.40 L139.90 431.00 L146.80 428.80 L153.70 427.30 L161.50 427.60 L168.40 427.90 L176.20 428.30 L183.30 428.30 L192.30 430.40 L202.30 433.60 L213.20 424.00 L229.50 420.40 L247.70 424.00 L264.10 433.60 L268.30 444.90 L270.50 454.90 L271.40 461.30 L274.00 473.00" fill="none" stroke="#7ab8f0" stroke-width="0.65"/>
<path d="M97.07 469.92H102.35M99.71 467.28V472.56M97.73 467.94L101.69 471.90M97.73 471.90L101.69 467.94" stroke="#9ccdf6" stroke-width="0.6" fill="none"/>
<path d="M97.34 469.22H102.62M99.98 466.58V471.86M98.00 467.24L101.96 471.20M98.00 471.20L101.96 467.24" stroke="#9ccdf6" stroke-width="0.6" fill="none"/>
<path d="M97.65 468.41H102.93M100.29 465.77V471.05M98.31 466.43L102.27 470.39M98.31 470.39L102.27 466.43" stroke="#9ccdf6" stroke-width="0.6" fill="none"/>
<path d="M98.01 467.47H103.29M100.65 464.83V470.11M98.67 465.49L102.63 469.45M98.67 469.45L102.63 465.49" stroke="#9ccdf6" stroke-width="0.6" fill="none"/>
<path d="M98.43 466.38H103.71M101.07 463.74V469.02M99.09 464.40L103.05 468.36M99.09 468.36L103.05 464.40" stroke="#9ccdf6" stroke-width="0.6" fill="none"/>
<path d="M98.91 465.12H104.19M101.55 462.48V467.76M99.57 463.14L103.53 467.10M99.57 467.10L103.53 463.14" stroke="#9ccdf6" stroke-width="0.6" fill="none"/>
<path d="M99.47 463.65H104.75M102.11 461.01V466.29M100.13 461.67L104.09 465.63M100.13 465.63L104.09 461.67" stroke="#9ccdf6" stroke-width="0.6" fill="none"/>
<path d="M100.13 461.95H105.41M102.77 459.31V464.59M100.79 459.97L104.75 463.93M100.79 463.93L104.75 459.97" stroke="#9ccdf6" stroke-width="0.6" fill="none"/>
<path d="M101.06 460.06H106.34M103.70 457.42V462.70M101.72 458.08L105.68 462.04M101.72 462.04L105.68 458.08" stroke="#9ccdf6" stroke-width="0.6" fill="none"/>
<path d="M102.20 457.88H107.48M104.84 455.24V460.52M102.86 455.90L106.82 459.86M102.86 459.86L106.82 455.90" stroke="#9ccdf6" stroke-width="0.6" fill="none"/>
<path d="M103.52 455.36H108.80M106.16 452.72V458.00M104.18 453.38L108.14 457.34M104.18 457.34L108.14 453.38" stroke="#9ccdf6" stroke-width="0.6" fill="none"/>
<path d="M105.35 452.63H110.63M107.99 449.99V455.27M106.01 450.65L109.97 454.61M106.01 454.61L109.97 450.65" stroke="#9ccdf6" stroke-width="0.6" fill="none"/>
<path d="M107.59 449.52H112.87M110.23 446.88V452.16M108.25 447.54L112.21 451.50M108.25 451.50L112.21 447.54" stroke="#9ccdf6" stroke-width="0.6" fill="none"/>
<path d="M110.65 446.31H115.93M113.29 443.67V448.95M111.31 444.33L115.27 448.29M111.31 448.29L115.27 444.33" stroke="#9ccdf6" stroke-width="0.6" fill="none"/>
<path d="M114.48 442.89H119.76M117.12 440.25V445.53M115.14 440.91L119.10 444.87M115.14 444.87L119.10 440.91" stroke="#9ccdf6" stroke-width="0.6" fill="none"/>
<path d="M119.47 439.62H124.75M122.11 436.98V442.26M120.13 437.64L124.09 441.60M120.13 441.60L124.09 437.64" stroke="#9ccdf6" stroke-width="0.6" fill="none"/>
<path d="M125.42 436.09H130.70M128.06 433.45V438.73M126.08 434.11L130.04 438.07M126.08 438.07L130.04 434.11" stroke="#9ccdf6" stroke-width="0.6" fill="none"/>
<path d="M131.52 432.77H136.80M134.16 430.13V435.41M132.18 430.79L136.14 434.75M132.18 434.75L136.14 430.79" stroke="#9ccdf6" stroke-width="0.6" fill="none"/>
<path d="M138.20 430.70H143.48M140.84 428.06V433.34M138.86 428.72L142.82 432.68M138.86 432.68L142.82 428.72" stroke="#9ccdf6" stroke-width="0.6" fill="none"/>
<path d="M144.89 428.64H150.17M147.53 426.00V431.28M145.55 426.66L149.51 430.62M145.55 430.62L149.51 426.66" stroke="#9ccdf6" stroke-width="0.6" fill="none"/>
<path d="M151.75 427.33H157.03M154.39 424.69V429.97M152.41 425.35L156.37 429.31M152.41 429.31L156.37 425.35" stroke="#9ccdf6" stroke-width="0.6" fill="none"/>
<path d="M158.74 427.60H164.02M161.38 424.96V430.24M159.40 425.62L163.36 429.58M159.40 429.58L163.36 425.62" stroke="#9ccdf6" stroke-width="0.6" fill="none"/>
<path d="M165.73 427.90H171.01M168.37 425.26V430.54M166.39 425.92L170.35 429.88M166.39 429.88L170.35 425.92" stroke="#9ccdf6" stroke-width="0.6" fill="none"/>
<path d="M172.72 428.26H178.00M175.36 425.62V430.90M173.38 426.28L177.34 430.24M173.38 430.24L177.34 426.28" stroke="#9ccdf6" stroke-width="0.6" fill="none"/>
<path d="M180.66 428.30H185.94M183.30 425.66V430.94M181.32 426.32L185.28 430.28M181.32 430.28L185.28 426.32" stroke="#9ccdf6" stroke-width="0.6" fill="none"/>
<path d="M189.66 430.40H194.94M192.30 427.76V433.04M190.32 428.42L194.28 432.38M190.32 432.38L194.28 428.42" stroke="#9ccdf6" stroke-width="0.6" fill="none"/>
<path d="M199.66 433.60H204.94M202.30 430.96V436.24M200.32 431.62L204.28 435.58M200.32 435.58L204.28 431.62" stroke="#9ccdf6" stroke-width="0.6" fill="none"/>
<path d="M210.56 424.00H215.84M213.20 421.36V426.64M211.22 422.02L215.18 425.98M211.22 425.98L215.18 422.02" stroke="#9ccdf6" stroke-width="0.6" fill="none"/>
<path d="M226.86 420.40H232.14M229.50 417.76V423.04M227.52 418.42L231.48 422.38M227.52 422.38L231.48 418.42" stroke="#9ccdf6" stroke-width="0.6" fill="none"/>
<path d="M245.06 424.00H250.34M247.70 421.36V426.64M245.72 422.02L249.68 425.98M245.72 425.98L249.68 422.02" stroke="#9ccdf6" stroke-width="0.6" fill="none"/>
<path d="M261.46 433.60H266.74M264.10 430.96V436.24M262.12 431.62L266.08 435.58M262.12 435.58L266.08 431.62" stroke="#9ccdf6" stroke-width="0.6" fill="none"/>
<path d="M265.66 444.90H270.94M268.30 442.26V447.54M266.32 442.92L270.28 446.88M266.32 446.88L270.28 442.92" stroke="#9ccdf6" stroke-width="0.6" fill="none"/>
<path d="M267.86 454.90H273.14M270.50 452.26V457.54M268.52 452.92L272.48 456.88M268.52 456.88L272.48 452.92" stroke="#9ccdf6" stroke-width="0.6" fill="none"/>
<path d="M268.76 461.30H274.04M271.40 458.66V463.94M269.42 459.32L273.38 463.28M269.42 463.28L273.38 459.32" stroke="#9ccdf6" stroke-width="0.6" fill="none"/>
<path d="M100.10 472.50 L100.09 470.27 L103.34 462.32 L106.88 455.94 L110.93 450.67 L115.88 446.04 L120.24 443.08 L126.30 439.94 L132.21 436.24 L139.90 434.00 L146.80 431.80 L153.70 430.30 L161.50 430.60 L168.40 430.90 L176.20 431.30 L186.00 432.50 L197.70 432.20 L210.50 424.00 L224.10 421.30 L237.70 424.50 L252.30 432.20 L261.40 443.10 L267.70 453.10 L270.50 463.10 L272.30 468.50 L273.00 473.00" fill="none" stroke="#505050" stroke-width="0.65" stroke-dasharray="5,1.4,1,1.4"/>
</g>
<rect x="56.6" y="11.30" width="226.20" height="91.60" fill="none" stroke="#858585" stroke-width="1.2"/>
<line x1="53.80" y1="102.90" x2="56.6" y2="102.90" stroke="#858585" stroke-width="1"/>
<line x1="55.00" y1="93.74" x2="56.6" y2="93.74" stroke="#858585" stroke-width="1"/>
<line x1="53.80" y1="84.58" x2="56.6" y2="84.58" stroke="#858585" stroke-width="1"/>
<line x1="55.00" y1="75.42" x2="56.6" y2="75.42" stroke="#858585" stroke-width="1"/>
<line x1="53.80" y1="66.26" x2="56.6" y2="66.26" stroke="#858585" stroke-width="1"/>
<line x1="55.00" y1="57.10" x2="56.6" y2="57.10" stroke="#858585" stroke-width="1"/>
<line x1="53.80" y1="47.94" x2="56.6" y2="47.94" stroke="#858585" stroke-width="1"/>
<line x1="55.00" y1="38.78" x2="56.6" y2="38.78" stroke="#858585" stroke-width="1"/>
<line x1="53.80" y1="29.62" x2="56.6" y2="29.62" stroke="#858585" stroke-width="1"/>
<line x1="55.00" y1="20.46" x2="56.6" y2="20.46" stroke="#858585" stroke-width="1"/>
<line x1="53.80" y1="11.30" x2="56.6" y2="11.30" stroke="#858585" stroke-width="1"/>
<text x="51" y="14.80" font-size="10" text-anchor="end" fill="#111" stroke="#111" stroke-width="0.15">150</text>
<text x="51" y="33.12" font-size="10" text-anchor="end" fill="#111" stroke="#111" stroke-width="0.15">120</text>
<text x="51" y="51.44" font-size="10" text-anchor="end" fill="#111" stroke="#111" stroke-width="0.15">90</text>
<text x="51" y="69.76" font-size="10" text-anchor="end" fill="#111" stroke="#111" stroke-width="0.15">60</text>
<text x="51" y="88.08" font-size="10" text-anchor="end" fill="#111" stroke="#111" stroke-width="0.15">30</text>
<rect x="59.9" y="19.3" width="144.40" height="32.00" fill="#fff" stroke="#7c7c7c" stroke-width="0.9"/>
<line x1="60.70" y1="25.00" x2="79.70" y2="25.00" stroke="#4a4a4a" stroke-width="0.9"/>
<rect x="68.16" y="22.96" width="4.08" height="4.08" fill="#4a4a4a"/>
<text x="82.10" y="27.90" font-size="8.3" fill="#111" stroke="#111" stroke-width="0.18">Beginning of test block 1</text>
<line x1="60.70" y1="35.30" x2="79.70" y2="35.30" stroke="#f46060" stroke-width="0.9"/>
<circle cx="70.20" cy="35.30" r="2.38" fill="#f23a3a"/>
<text x="82.10" y="38.20" font-size="8.3" fill="#111" stroke="#111" stroke-width="0.18">Before Recovery 1: 80°C to 30°C</text>
<line x1="60.70" y1="45.60" x2="79.70" y2="45.60" stroke="#3d86e6" stroke-width="0.9"/>
<polygon points="70.20,42.56 73.08,47.73 67.32,47.73" fill="#1a6fdf"/>
<text x="82.10" y="48.50" font-size="8.3" fill="#111" stroke="#111" stroke-width="0.18">After Recovery 1</text>
<rect x="56.6" y="102.90" width="226.20" height="92.10" fill="none" stroke="#858585" stroke-width="1.2"/>
<line x1="53.80" y1="195.00" x2="56.6" y2="195.00" stroke="#858585" stroke-width="1"/>
<line x1="55.00" y1="185.79" x2="56.6" y2="185.79" stroke="#858585" stroke-width="1"/>
<line x1="53.80" y1="176.58" x2="56.6" y2="176.58" stroke="#858585" stroke-width="1"/>
<line x1="55.00" y1="167.37" x2="56.6" y2="167.37" stroke="#858585" stroke-width="1"/>
<line x1="53.80" y1="158.16" x2="56.6" y2="158.16" stroke="#858585" stroke-width="1"/>
<line x1="55.00" y1="148.95" x2="56.6" y2="148.95" stroke="#858585" stroke-width="1"/>
<line x1="53.80" y1="139.74" x2="56.6" y2="139.74" stroke="#858585" stroke-width="1"/>
<line x1="55.00" y1="130.53" x2="56.6" y2="130.53" stroke="#858585" stroke-width="1"/>
<line x1="53.80" y1="121.32" x2="56.6" y2="121.32" stroke="#858585" stroke-width="1"/>
<line x1="55.00" y1="112.11" x2="56.6" y2="112.11" stroke="#858585" stroke-width="1"/>
<line x1="53.80" y1="102.90" x2="56.6" y2="102.90" stroke="#858585" stroke-width="1"/>
<text x="51" y="106.40" font-size="10" text-anchor="end" fill="#111" stroke="#111" stroke-width="0.15">150</text>
<text x="51" y="124.82" font-size="10" text-anchor="end" fill="#111" stroke="#111" stroke-width="0.15">120</text>
<text x="51" y="143.24" font-size="10" text-anchor="end" fill="#111" stroke="#111" stroke-width="0.15">90</text>
<text x="51" y="161.66" font-size="10" text-anchor="end" fill="#111" stroke="#111" stroke-width="0.15">60</text>
<text x="51" y="180.08" font-size="10" text-anchor="end" fill="#111" stroke="#111" stroke-width="0.15">30</text>
<rect x="60.7" y="107.4" width="144.60" height="31.90" fill="#fff" stroke="#7c7c7c" stroke-width="0.9"/>
<line x1="61.50" y1="113.10" x2="80.50" y2="113.10" stroke="#37c08a" stroke-width="0.9"/>
<polygon points="71.00,116.14 73.88,110.97 68.12,110.97" fill="#22b07a"/>
<text x="82.90" y="116.00" font-size="8.3" fill="#111" stroke="#111" stroke-width="0.18">Beginning of test block 2</text>
<line x1="61.50" y1="123.40" x2="80.50" y2="123.40" stroke="#c98ae8" stroke-width="0.9"/>
<polygon points="71.00,120.53 73.88,123.40 71.00,126.28 68.12,123.40" fill="#c479e8"/>
<text x="82.90" y="126.30" font-size="8.3" fill="#111" stroke="#111" stroke-width="0.18">Before Recovery 2: 80°C to 45°C</text>
<line x1="61.50" y1="133.70" x2="80.50" y2="133.70" stroke="#e8a42a" stroke-width="0.9"/>
<polygon points="67.96,133.70 73.13,130.82 73.13,136.58" fill="#e59a10"/>
<text x="82.90" y="136.60" font-size="8.3" fill="#111" stroke="#111" stroke-width="0.18">After Recovery 2</text>
<rect x="56.6" y="195.00" width="226.20" height="91.85" fill="none" stroke="#858585" stroke-width="1.2"/>
<line x1="53.80" y1="286.85" x2="56.6" y2="286.85" stroke="#858585" stroke-width="1"/>
<line x1="55.00" y1="277.67" x2="56.6" y2="277.67" stroke="#858585" stroke-width="1"/>
<line x1="53.80" y1="268.48" x2="56.6" y2="268.48" stroke="#858585" stroke-width="1"/>
<line x1="55.00" y1="259.30" x2="56.6" y2="259.30" stroke="#858585" stroke-width="1"/>
<line x1="53.80" y1="250.11" x2="56.6" y2="250.11" stroke="#858585" stroke-width="1"/>
<line x1="55.00" y1="240.93" x2="56.6" y2="240.93" stroke="#858585" stroke-width="1"/>
<line x1="53.80" y1="231.74" x2="56.6" y2="231.74" stroke="#858585" stroke-width="1"/>
<line x1="55.00" y1="222.56" x2="56.6" y2="222.56" stroke="#858585" stroke-width="1"/>
<line x1="53.80" y1="213.37" x2="56.6" y2="213.37" stroke="#858585" stroke-width="1"/>
<line x1="55.00" y1="204.19" x2="56.6" y2="204.19" stroke="#858585" stroke-width="1"/>
<line x1="53.80" y1="195.00" x2="56.6" y2="195.00" stroke="#858585" stroke-width="1"/>
<text x="51" y="198.50" font-size="10" text-anchor="end" fill="#111" stroke="#111" stroke-width="0.15">150</text>
<text x="51" y="216.87" font-size="10" text-anchor="end" fill="#111" stroke="#111" stroke-width="0.15">120</text>
<text x="51" y="235.24" font-size="10" text-anchor="end" fill="#111" stroke="#111" stroke-width="0.15">90</text>
<text x="51" y="253.61" font-size="10" text-anchor="end" fill="#111" stroke="#111" stroke-width="0.15">60</text>
<text x="51" y="271.98" font-size="10" text-anchor="end" fill="#111" stroke="#111" stroke-width="0.15">30</text>
<rect x="59.1" y="202.1" width="144.40" height="31.80" fill="#fff" stroke="#7c7c7c" stroke-width="0.9"/>
<line x1="59.90" y1="207.80" x2="78.90" y2="207.80" stroke="#35d0d8" stroke-width="0.9"/>
<polygon points="72.44,207.80 67.27,204.92 67.27,210.68" fill="#19cdd6"/>
<text x="81.30" y="210.70" font-size="8.3" fill="#111" stroke="#111" stroke-width="0.18">Beginning of test block 3</text>
<line x1="59.90" y1="218.10" x2="78.90" y2="218.10" stroke="#a56068" stroke-width="0.9"/>
<circle cx="69.40" cy="218.10" r="2.38" fill="#9a4a52" stroke="#5a3030" stroke-width="0.4"/>
<text x="81.30" y="221.00" font-size="8.3" fill="#111" stroke="#111" stroke-width="0.18">Before Recovery 3: 80°C to 60°C</text>
<line x1="59.90" y1="228.40" x2="78.90" y2="228.40" stroke="#a3a320" stroke-width="0.9"/>
<polygon points="69.40,225.28 70.16,227.35 72.37,227.44 70.64,228.80 71.23,230.92 69.40,229.70 67.57,230.92 68.16,228.80 66.43,227.44 68.64,227.35" fill="#9a9a10"/>
<text x="81.30" y="231.30" font-size="8.3" fill="#111" stroke="#111" stroke-width="0.18">After Recovery 3</text>
<rect x="56.6" y="286.85" width="226.20" height="92.20" fill="none" stroke="#858585" stroke-width="1.2"/>
<line x1="53.80" y1="379.05" x2="56.6" y2="379.05" stroke="#858585" stroke-width="1"/>
<line x1="55.00" y1="369.83" x2="56.6" y2="369.83" stroke="#858585" stroke-width="1"/>
<line x1="53.80" y1="360.61" x2="56.6" y2="360.61" stroke="#858585" stroke-width="1"/>
<line x1="55.00" y1="351.39" x2="56.6" y2="351.39" stroke="#858585" stroke-width="1"/>
<line x1="53.80" y1="342.17" x2="56.6" y2="342.17" stroke="#858585" stroke-width="1"/>
<line x1="55.00" y1="332.95" x2="56.6" y2="332.95" stroke="#858585" stroke-width="1"/>
<line x1="53.80" y1="323.73" x2="56.6" y2="323.73" stroke="#858585" stroke-width="1"/>
<line x1="55.00" y1="314.51" x2="56.6" y2="314.51" stroke="#858585" stroke-width="1"/>
<line x1="53.80" y1="305.29" x2="56.6" y2="305.29" stroke="#858585" stroke-width="1"/>
<line x1="55.00" y1="296.07" x2="56.6" y2="296.07" stroke="#858585" stroke-width="1"/>
<line x1="53.80" y1="286.85" x2="56.6" y2="286.85" stroke="#858585" stroke-width="1"/>
<text x="51" y="290.35" font-size="10" text-anchor="end" fill="#111" stroke="#111" stroke-width="0.15">150</text>
<text x="51" y="308.79" font-size="10" text-anchor="end" fill="#111" stroke="#111" stroke-width="0.15">120</text>
<text x="51" y="327.23" font-size="10" text-anchor="end" fill="#111" stroke="#111" stroke-width="0.15">90</text>
<text x="51" y="345.67" font-size="10" text-anchor="end" fill="#111" stroke="#111" stroke-width="0.15">60</text>
<text x="51" y="364.11" font-size="10" text-anchor="end" fill="#111" stroke="#111" stroke-width="0.15">30</text>
<rect x="60.5" y="295.5" width="186.90" height="31.60" fill="#fff" stroke="#7c7c7c" stroke-width="0.9"/>
<line x1="61.30" y1="301.20" x2="80.30" y2="301.20" stroke="#fb7a30" stroke-width="0.9"/>
<polygon points="70.80,298.34 73.52,300.32 72.48,303.51 69.12,303.51 68.08,300.32" fill="#fb6010"/>
<text x="82.70" y="304.10" font-size="8.3" fill="#111" stroke="#111" stroke-width="0.18">Beginning of test block 4</text>
<line x1="61.30" y1="311.50" x2="80.30" y2="311.50" stroke="#3e98dc" stroke-width="0.9"/>
<circle cx="70.80" cy="311.50" r="2.38" fill="#3090d8"/>
<text x="82.70" y="314.40" font-size="8.3" fill="#111" stroke="#111" stroke-width="0.18">Before Recovery 4: Repetition of Recovery 1</text>
<line x1="61.30" y1="321.80" x2="80.30" y2="321.80" stroke="#6cc02a" stroke-width="0.9"/>
<path d="M68.05 321.80H73.55M70.80 319.05V324.55" stroke="#6cc02a" stroke-width="0.8" fill="none"/>
<text x="82.70" y="324.70" font-size="8.3" fill="#111" stroke="#111" stroke-width="0.18">After Recovery 4</text>
<rect x="56.6" y="379.05" width="226.20" height="92.05" fill="none" stroke="#858585" stroke-width="1.2"/>
<line x1="53.80" y1="471.10" x2="56.6" y2="471.10" stroke="#858585" stroke-width="1"/>
<line x1="55.00" y1="461.90" x2="56.6" y2="461.90" stroke="#858585" stroke-width="1"/>
<line x1="53.80" y1="452.69" x2="56.6" y2="452.69" stroke="#858585" stroke-width="1"/>
<line x1="55.00" y1="443.49" x2="56.6" y2="443.49" stroke="#858585" stroke-width="1"/>
<line x1="53.80" y1="434.28" x2="56.6" y2="434.28" stroke="#858585" stroke-width="1"/>
<line x1="55.00" y1="425.08" x2="56.6" y2="425.08" stroke="#858585" stroke-width="1"/>
<line x1="53.80" y1="415.87" x2="56.6" y2="415.87" stroke="#858585" stroke-width="1"/>
<line x1="55.00" y1="406.67" x2="56.6" y2="406.67" stroke="#858585" stroke-width="1"/>
<line x1="53.80" y1="397.46" x2="56.6" y2="397.46" stroke="#858585" stroke-width="1"/>
<line x1="55.00" y1="388.25" x2="56.6" y2="388.25" stroke="#858585" stroke-width="1"/>
<line x1="53.80" y1="379.05" x2="56.6" y2="379.05" stroke="#858585" stroke-width="1"/>
<text x="51" y="382.55" font-size="10" text-anchor="end" fill="#111" stroke="#111" stroke-width="0.15">150</text>
<text x="51" y="400.96" font-size="10" text-anchor="end" fill="#111" stroke="#111" stroke-width="0.15">120</text>
<text x="51" y="419.37" font-size="10" text-anchor="end" fill="#111" stroke="#111" stroke-width="0.15">90</text>
<text x="51" y="437.78" font-size="10" text-anchor="end" fill="#111" stroke="#111" stroke-width="0.15">60</text>
<text x="51" y="456.19" font-size="10" text-anchor="end" fill="#111" stroke="#111" stroke-width="0.15">30</text>
<text x="51" y="474.60" font-size="10" text-anchor="end" fill="#111" stroke="#111" stroke-width="0.15">0</text>
<rect x="59.4" y="384.4" width="187.10" height="31.80" fill="#fff" stroke="#7c7c7c" stroke-width="0.9"/>
<line x1="60.20" y1="390.10" x2="79.20" y2="390.10" stroke="#5ee0bb" stroke-width="0.9"/>
<path d="M67.42 387.82L71.98 392.38M67.42 392.38L71.98 387.82" stroke="#8ae8cc" stroke-width="0.7" fill="none"/>
<text x="81.60" y="393.00" font-size="8.3" fill="#111" stroke="#111" stroke-width="0.18">Beginning of test block 5</text>
<line x1="60.20" y1="400.40" x2="79.20" y2="400.40" stroke="#7ab8f0" stroke-width="0.9"/>
<path d="M67.06 400.40H72.34M69.70 397.76V403.04M67.72 398.42L71.68 402.38M67.72 402.38L71.68 398.42" stroke="#9ccdf6" stroke-width="0.6" fill="none"/>
<text x="81.60" y="403.30" font-size="8.3" fill="#111" stroke="#111" stroke-width="0.18">Before Recovery 5: Repetition of Recovery 3</text>
<line x1="60.20" y1="410.70" x2="79.20" y2="410.70" stroke="#505050" stroke-width="0.9" stroke-dasharray="5,1.4,1,1.4"/>
<text x="81.60" y="413.60" font-size="8.3" fill="#111" stroke="#111" stroke-width="0.18">After Recovery 5</text>
<line x1="56.60" y1="471.10" x2="56.60" y2="473.90" stroke="#858585" stroke-width="1"/>
<line x1="79.22" y1="471.10" x2="79.22" y2="472.70" stroke="#858585" stroke-width="1"/>
<line x1="101.84" y1="471.10" x2="101.84" y2="473.90" stroke="#858585" stroke-width="1"/>
<line x1="124.46" y1="471.10" x2="124.46" y2="472.70" stroke="#858585" stroke-width="1"/>
<line x1="147.08" y1="471.10" x2="147.08" y2="473.90" stroke="#858585" stroke-width="1"/>
<line x1="169.70" y1="471.10" x2="169.70" y2="472.70" stroke="#858585" stroke-width="1"/>
<line x1="192.32" y1="471.10" x2="192.32" y2="473.90" stroke="#858585" stroke-width="1"/>
<line x1="214.94" y1="471.10" x2="214.94" y2="472.70" stroke="#858585" stroke-width="1"/>
<line x1="237.56" y1="471.10" x2="237.56" y2="473.90" stroke="#858585" stroke-width="1"/>
<line x1="260.18" y1="471.10" x2="260.18" y2="472.70" stroke="#858585" stroke-width="1"/>
<line x1="282.80" y1="471.10" x2="282.80" y2="473.90" stroke="#858585" stroke-width="1"/>
<g clip-path="url(#cl400)">
<text x="56.60" y="484.3" font-size="10" text-anchor="middle" fill="#111" stroke="#111" stroke-width="0.15">0</text>
<text x="101.84" y="484.3" font-size="10" text-anchor="middle" fill="#111" stroke="#111" stroke-width="0.15">80</text>
<text x="147.08" y="484.3" font-size="10" text-anchor="middle" fill="#111" stroke="#111" stroke-width="0.15">160</text>
<text x="192.32" y="484.3" font-size="10" text-anchor="middle" fill="#111" stroke="#111" stroke-width="0.15">240</text>
<text x="237.56" y="484.3" font-size="10" text-anchor="middle" fill="#111" stroke="#111" stroke-width="0.15">320</text>
<text x="282.80" y="484.3" font-size="10" text-anchor="middle" fill="#111" stroke="#111" stroke-width="0.15">400</text>
</g>
<text x="169.70" y="505.2" font-size="12" font-weight="bold" text-anchor="middle">Real (Z) / mOhm cm<tspan font-size="7.5" dy="-4.5">2</tspan></text>
<text transform="translate(29.3,241) rotate(-90)" font-size="11.9" font-weight="bold" text-anchor="middle">-Im (Z) / mOhm cm<tspan font-size="7.5" dy="-4.5">2</tspan></text>
<text x="290.4" y="22.2" font-size="22.8" font-weight="bold">(b)</text>
<path d="M324.4 32.9H328 M340.8 32.9H378.3 M388.8 32.9H444.5 M454.8 32.9H494.4 M504.5 32.9H508.8" stroke="#8c8c8c" stroke-width="1.2" fill="none"/>
<path d="M327.6 32.9 C329.2 32.9 329.3 30.4 330.6 30.4 C332.2 30.4 332.4 36.2 331.6 36.2 C330.8 36.2 331.2 30.4 333.1 30.4 C334.7 30.4 334.9 36.2 334.1 36.2 C333.3 36.2 333.7 30.4 335.6 30.4 C337.2 30.4 337.4 36.2 336.6 36.2 C335.8 36.2 336.2 30.4 338.1 30.4 C339.4 30.4 339.6 32.9 341 32.9" stroke="#333" stroke-width="1.0" fill="none"/>
<path d="M358.8 32.9V51.8H381.7 M385.3 51.8H408.6V32.9" stroke="#8c8c8c" stroke-width="1.2" fill="none"/>
<rect x="378.3" y="29.6" width="10.5" height="6.8" rx="1.3" fill="#fff" stroke="#8a8a8a" stroke-width="0.9"/>
<rect x="380.9" y="46.5" width="1.9" height="9.0" fill="#444"/>
<rect x="384.5" y="46.5" width="1.9" height="9.0" fill="#444"/>
<circle cx="358.8" cy="32.9" r="1.1" fill="#1a1a1a"/>
<circle cx="408.6" cy="32.9" r="1.1" fill="#1a1a1a"/>
<circle cx="374.0" cy="32.9" r="1.1" fill="#1a1a1a"/>
<circle cx="374.0" cy="51.8" r="1.1" fill="#1a1a1a"/>
<circle cx="393.1" cy="32.9" r="1.1" fill="#1a1a1a"/>
<circle cx="393.1" cy="51.8" r="1.1" fill="#1a1a1a"/>
<path d="M424.9 32.9V51.8H447.9 M451.5 51.8H474.6V32.9" stroke="#8c8c8c" stroke-width="1.2" fill="none"/>
<rect x="444.5" y="29.6" width="10.3" height="6.8" rx="1.3" fill="#fff" stroke="#8a8a8a" stroke-width="0.9"/>
<rect x="447.1" y="46.5" width="1.9" height="9.0" fill="#444"/>
<rect x="450.7" y="46.5" width="1.9" height="9.0" fill="#444"/>
<circle cx="424.9" cy="32.9" r="1.1" fill="#1a1a1a"/>
<circle cx="474.6" cy="32.9" r="1.1" fill="#1a1a1a"/>
<circle cx="440.1" cy="32.9" r="1.1" fill="#1a1a1a"/>
<circle cx="440.1" cy="51.8" r="1.1" fill="#1a1a1a"/>
<circle cx="459.2" cy="32.9" r="1.1" fill="#1a1a1a"/>
<circle cx="459.2" cy="51.8" r="1.1" fill="#1a1a1a"/>
<rect x="494.4" y="29.6" width="10.1" height="6.8" rx="1.3" fill="#fff" stroke="#8a8a8a" stroke-width="0.9"/>
<circle cx="324.4" cy="32.9" r="1.1" fill="#1a1a1a"/>
<circle cx="343.6" cy="32.9" r="1.1" fill="#1a1a1a"/>
<circle cx="490.3" cy="32.9" r="1.1" fill="#1a1a1a"/>
<circle cx="508.8" cy="32.9" r="1.1" fill="#1a1a1a"/>
<text x="334.6" y="26.0" font-size="6.8" font-weight="bold" text-anchor="middle">L</text>
<text x="364.6" y="25.3" font-size="7.5" font-weight="bold">R<tspan font-size="5" dy="1.6">Charge transfer</tspan></text>
<text x="431.6" y="25.3" font-size="7.5" font-weight="bold">R<tspan font-size="5" dy="1.6">Mass transfer</tspan></text>
<text x="489.2" y="25.3" font-size="7.5" font-weight="bold">R<tspan font-size="5" dy="1.6">Ohmic</tspan></text>
<text x="380.2" y="61.9" font-size="7.3" font-weight="bold">CPE<tspan font-size="5" dy="1.5">1</tspan></text>
<text x="447.3" y="61.9" font-size="7.3" font-weight="bold">CPE<tspan font-size="5" dy="1.5">2</tspan></text>
<text x="290.4" y="84.4" font-size="22.8" font-weight="bold">(c)</text>
<rect x="330.7" y="82.9" width="201.1" height="14.5" fill="#c9c9c9" stroke="#262626" stroke-width="0.9"/>
<line x1="397.7" y1="82.9" x2="397.7" y2="97.45" stroke="#262626" stroke-width="0.9"/>
<line x1="464.9" y1="82.9" x2="464.9" y2="97.45" stroke="#262626" stroke-width="0.9"/>
<text x="364.20" y="91.6" font-size="7" font-weight="bold" text-anchor="middle">R<tspan font-size="5.75" dy="2.6">Ohmic</tspan></text>
<text x="431.30" y="91.6" font-size="7" font-weight="bold" text-anchor="middle">R<tspan font-size="5.75" dy="2.6">Charge transfer</tspan></text>
<text x="498.35" y="91.6" font-size="7" font-weight="bold" text-anchor="middle">R<tspan font-size="5.75" dy="2.6">Mass transfer</tspan></text>
<line x1="331.7" y1="147.21" x2="396.7" y2="147.21" stroke="#c4c4c4" stroke-width="0.7" stroke-dasharray="1,1.6"/>
<line x1="398.7" y1="147.21" x2="463.9" y2="147.21" stroke="#c4c4c4" stroke-width="0.7" stroke-dasharray="1,1.6"/>
<line x1="465.9" y1="147.21" x2="530.8" y2="147.21" stroke="#c4c4c4" stroke-width="0.7" stroke-dasharray="1,1.6"/>
<line x1="331.7" y1="130.62" x2="396.7" y2="130.62" stroke="#c4c4c4" stroke-width="0.7" stroke-dasharray="1,1.6"/>
<line x1="398.7" y1="130.62" x2="463.9" y2="130.62" stroke="#c4c4c4" stroke-width="0.7" stroke-dasharray="1,1.6"/>
<line x1="465.9" y1="130.62" x2="530.8" y2="130.62" stroke="#c4c4c4" stroke-width="0.7" stroke-dasharray="1,1.6"/>
<line x1="331.7" y1="114.04" x2="396.7" y2="114.04" stroke="#c4c4c4" stroke-width="0.7" stroke-dasharray="1,1.6"/>
<line x1="398.7" y1="114.04" x2="463.9" y2="114.04" stroke="#c4c4c4" stroke-width="0.7" stroke-dasharray="1,1.6"/>
<line x1="465.9" y1="114.04" x2="530.8" y2="114.04" stroke="#c4c4c4" stroke-width="0.7" stroke-dasharray="1,1.6"/>
<rect x="337.50" y="161.72" width="19.8" height="2.07" fill="#555" stroke="#222" stroke-width="0.6"/>
<rect x="371.00" y="161.51" width="19.8" height="2.28" fill="url(#hatch)" stroke="#222" stroke-width="0.6"/>
<path d="M347.40 161.30V162.13M345.60 161.30H349.20" stroke="#7a7a7a" stroke-width="0.75" fill="none"/>
<path d="M380.90 161.09V161.92M379.10 161.09H382.70" stroke="#7a7a7a" stroke-width="0.75" fill="none"/>
<rect x="404.50" y="134.35" width="19.8" height="29.44" fill="#555" stroke="#222" stroke-width="0.6"/>
<rect x="438.00" y="109.68" width="19.8" height="54.11" fill="url(#hatch)" stroke="#222" stroke-width="0.6"/>
<path d="M414.40 130.62V138.08M412.60 130.62H416.20" stroke="#7a7a7a" stroke-width="0.75" fill="none"/>
<path d="M447.90 107.19V112.17M446.10 107.19H449.70" stroke="#7a7a7a" stroke-width="0.75" fill="none"/>
<rect x="471.70" y="156.53" width="19.8" height="7.26" fill="#555" stroke="#222" stroke-width="0.6"/>
<rect x="505.20" y="135.39" width="19.8" height="28.40" fill="url(#hatch)" stroke="#222" stroke-width="0.6"/>
<path d="M481.60 154.88V158.19M479.80 154.88H483.40" stroke="#7a7a7a" stroke-width="0.75" fill="none"/>
<path d="M515.10 131.45V139.33M513.30 131.45H516.90" stroke="#7a7a7a" stroke-width="0.75" fill="none"/>
<rect x="330.7" y="97.45" width="201.1" height="66.34" fill="none" stroke="#262626" stroke-width="1"/>
<line x1="397.7" y1="97.45" x2="397.7" y2="163.79" stroke="#262626" stroke-width="1"/>
<line x1="464.9" y1="97.45" x2="464.9" y2="163.79" stroke="#262626" stroke-width="1"/>
<text x="323.8" y="101.05" font-size="10" text-anchor="end" fill="#111" stroke="#111" stroke-width="0.15">32</text>
<text x="323.8" y="117.64" font-size="10" text-anchor="end" fill="#111" stroke="#111" stroke-width="0.15">24</text>
<text x="323.8" y="134.22" font-size="10" text-anchor="end" fill="#111" stroke="#111" stroke-width="0.15">16</text>
<text x="323.8" y="150.81" font-size="10" text-anchor="end" fill="#111" stroke="#111" stroke-width="0.15">8</text>
<text x="323.8" y="167.39" font-size="10" text-anchor="end" fill="#111" stroke="#111" stroke-width="0.15">0</text>
<rect x="531.8" y="97.45" width="13.6" height="66.34" fill="#c9c9c9" stroke="#262626" stroke-width="0.9"/>
<text transform="translate(535.00,130.62) rotate(90)" font-size="8.4" font-weight="bold" text-anchor="middle">Test block 1</text>
<line x1="331.7" y1="213.54" x2="396.7" y2="213.54" stroke="#c4c4c4" stroke-width="0.7" stroke-dasharray="1,1.6"/>
<line x1="398.7" y1="213.54" x2="463.9" y2="213.54" stroke="#c4c4c4" stroke-width="0.7" stroke-dasharray="1,1.6"/>
<line x1="465.9" y1="213.54" x2="530.8" y2="213.54" stroke="#c4c4c4" stroke-width="0.7" stroke-dasharray="1,1.6"/>
<line x1="331.7" y1="196.96" x2="396.7" y2="196.96" stroke="#c4c4c4" stroke-width="0.7" stroke-dasharray="1,1.6"/>
<line x1="398.7" y1="196.96" x2="463.9" y2="196.96" stroke="#c4c4c4" stroke-width="0.7" stroke-dasharray="1,1.6"/>
<line x1="465.9" y1="196.96" x2="530.8" y2="196.96" stroke="#c4c4c4" stroke-width="0.7" stroke-dasharray="1,1.6"/>
<line x1="331.7" y1="180.38" x2="396.7" y2="180.38" stroke="#c4c4c4" stroke-width="0.7" stroke-dasharray="1,1.6"/>
<line x1="398.7" y1="180.38" x2="463.9" y2="180.38" stroke="#c4c4c4" stroke-width="0.7" stroke-dasharray="1,1.6"/>
<line x1="465.9" y1="180.38" x2="530.8" y2="180.38" stroke="#c4c4c4" stroke-width="0.7" stroke-dasharray="1,1.6"/>
<rect x="337.50" y="228.89" width="19.8" height="1.24" fill="#555" stroke="#222" stroke-width="0.6"/>
<rect x="371.00" y="225.98" width="19.8" height="4.15" fill="url(#hatch)" stroke="#222" stroke-width="0.6"/>
<path d="M347.40 228.47V229.30M345.60 228.47H349.20" stroke="#7a7a7a" stroke-width="0.75" fill="none"/>
<path d="M380.90 225.57V226.40M379.10 225.57H382.70" stroke="#7a7a7a" stroke-width="0.75" fill="none"/>
<rect x="404.50" y="208.57" width="19.8" height="21.56" fill="#555" stroke="#222" stroke-width="0.6"/>
<rect x="438.00" y="167.52" width="19.8" height="62.61" fill="url(#hatch)" stroke="#222" stroke-width="0.6"/>
<path d="M414.40 204.42V212.72M412.60 204.42H416.20" stroke="#7a7a7a" stroke-width="0.75" fill="none"/>
<path d="M447.90 165.45V169.59M446.10 165.45H449.70" stroke="#7a7a7a" stroke-width="0.75" fill="none"/>
<rect x="471.70" y="225.15" width="19.8" height="4.98" fill="#555" stroke="#222" stroke-width="0.6"/>
<rect x="505.20" y="199.03" width="19.8" height="31.10" fill="url(#hatch)" stroke="#222" stroke-width="0.6"/>
<path d="M481.60 222.67V227.64M479.80 222.67H483.40" stroke="#7a7a7a" stroke-width="0.75" fill="none"/>
<path d="M515.10 195.72V202.35M513.30 195.72H516.90" stroke="#7a7a7a" stroke-width="0.75" fill="none"/>
<rect x="330.7" y="163.79" width="201.1" height="66.34" fill="none" stroke="#262626" stroke-width="1"/>
<line x1="397.7" y1="163.79" x2="397.7" y2="230.13" stroke="#262626" stroke-width="1"/>
<line x1="464.9" y1="163.79" x2="464.9" y2="230.13" stroke="#262626" stroke-width="1"/>
<text x="323.8" y="183.97" font-size="10" text-anchor="end" fill="#111" stroke="#111" stroke-width="0.15">24</text>
<text x="323.8" y="200.56" font-size="10" text-anchor="end" fill="#111" stroke="#111" stroke-width="0.15">16</text>
<text x="323.8" y="217.14" font-size="10" text-anchor="end" fill="#111" stroke="#111" stroke-width="0.15">8</text>
<text x="323.8" y="233.73" font-size="10" text-anchor="end" fill="#111" stroke="#111" stroke-width="0.15">0</text>
<rect x="531.8" y="163.79" width="13.6" height="66.34" fill="#c9c9c9" stroke="#262626" stroke-width="0.9"/>
<text transform="translate(535.00,196.96) rotate(90)" font-size="8.4" font-weight="bold" text-anchor="middle">Test block 2</text>
<line x1="331.7" y1="279.89" x2="396.7" y2="279.89" stroke="#c4c4c4" stroke-width="0.7" stroke-dasharray="1,1.6"/>
<line x1="398.7" y1="279.89" x2="463.9" y2="279.89" stroke="#c4c4c4" stroke-width="0.7" stroke-dasharray="1,1.6"/>
<line x1="465.9" y1="279.89" x2="530.8" y2="279.89" stroke="#c4c4c4" stroke-width="0.7" stroke-dasharray="1,1.6"/>
<line x1="331.7" y1="263.30" x2="396.7" y2="263.30" stroke="#c4c4c4" stroke-width="0.7" stroke-dasharray="1,1.6"/>
<line x1="398.7" y1="263.30" x2="463.9" y2="263.30" stroke="#c4c4c4" stroke-width="0.7" stroke-dasharray="1,1.6"/>
<line x1="465.9" y1="263.30" x2="530.8" y2="263.30" stroke="#c4c4c4" stroke-width="0.7" stroke-dasharray="1,1.6"/>
<line x1="331.7" y1="246.72" x2="396.7" y2="246.72" stroke="#c4c4c4" stroke-width="0.7" stroke-dasharray="1,1.6"/>
<line x1="398.7" y1="246.72" x2="463.9" y2="246.72" stroke="#c4c4c4" stroke-width="0.7" stroke-dasharray="1,1.6"/>
<line x1="465.9" y1="246.72" x2="530.8" y2="246.72" stroke="#c4c4c4" stroke-width="0.7" stroke-dasharray="1,1.6"/>
<rect x="337.50" y="295.23" width="19.8" height="1.24" fill="#555" stroke="#222" stroke-width="0.6"/>
<rect x="371.00" y="292.74" width="19.8" height="3.73" fill="url(#hatch)" stroke="#222" stroke-width="0.6"/>
<path d="M347.40 294.81V295.64M345.60 294.81H349.20" stroke="#7a7a7a" stroke-width="0.75" fill="none"/>
<path d="M380.90 292.32V293.15M379.10 292.32H382.70" stroke="#7a7a7a" stroke-width="0.75" fill="none"/>
<rect x="404.50" y="284.03" width="19.8" height="12.44" fill="#555" stroke="#222" stroke-width="0.6"/>
<rect x="438.00" y="237.59" width="19.8" height="58.88" fill="url(#hatch)" stroke="#222" stroke-width="0.6"/>
<path d="M414.40 281.54V286.52M412.60 281.54H416.20" stroke="#7a7a7a" stroke-width="0.75" fill="none"/>
<path d="M447.90 235.52V239.67M446.10 235.52H449.70" stroke="#7a7a7a" stroke-width="0.75" fill="none"/>
<rect x="471.70" y="294.81" width="19.8" height="1.66" fill="#555" stroke="#222" stroke-width="0.6"/>
<rect x="505.20" y="269.93" width="19.8" height="26.54" fill="url(#hatch)" stroke="#222" stroke-width="0.6"/>
<path d="M481.60 293.15V296.47M479.80 293.15H483.40" stroke="#7a7a7a" stroke-width="0.75" fill="none"/>
<path d="M515.10 267.45V272.42M513.30 267.45H516.90" stroke="#7a7a7a" stroke-width="0.75" fill="none"/>
<rect x="330.7" y="230.13" width="201.1" height="66.34" fill="none" stroke="#262626" stroke-width="1"/>
<line x1="397.7" y1="230.13" x2="397.7" y2="296.47" stroke="#262626" stroke-width="1"/>
<line x1="464.9" y1="230.13" x2="464.9" y2="296.47" stroke="#262626" stroke-width="1"/>
<text x="323.8" y="250.32" font-size="10" text-anchor="end" fill="#111" stroke="#111" stroke-width="0.15">24</text>
<text x="323.8" y="266.90" font-size="10" text-anchor="end" fill="#111" stroke="#111" stroke-width="0.15">16</text>
<text x="323.8" y="283.49" font-size="10" text-anchor="end" fill="#111" stroke="#111" stroke-width="0.15">8</text>
<text x="323.8" y="300.07" font-size="10" text-anchor="end" fill="#111" stroke="#111" stroke-width="0.15">0</text>
<rect x="531.8" y="230.13" width="13.6" height="66.34" fill="#c9c9c9" stroke="#262626" stroke-width="0.9"/>
<text transform="translate(535.00,263.30) rotate(90)" font-size="8.4" font-weight="bold" text-anchor="middle">Test block 3</text>
<line x1="331.7" y1="346.23" x2="396.7" y2="346.23" stroke="#c4c4c4" stroke-width="0.7" stroke-dasharray="1,1.6"/>
<line x1="398.7" y1="346.23" x2="463.9" y2="346.23" stroke="#c4c4c4" stroke-width="0.7" stroke-dasharray="1,1.6"/>
<line x1="465.9" y1="346.23" x2="530.8" y2="346.23" stroke="#c4c4c4" stroke-width="0.7" stroke-dasharray="1,1.6"/>
<line x1="331.7" y1="329.64" x2="396.7" y2="329.64" stroke="#c4c4c4" stroke-width="0.7" stroke-dasharray="1,1.6"/>
<line x1="398.7" y1="329.64" x2="463.9" y2="329.64" stroke="#c4c4c4" stroke-width="0.7" stroke-dasharray="1,1.6"/>
<line x1="465.9" y1="329.64" x2="530.8" y2="329.64" stroke="#c4c4c4" stroke-width="0.7" stroke-dasharray="1,1.6"/>
<line x1="331.7" y1="313.06" x2="396.7" y2="313.06" stroke="#c4c4c4" stroke-width="0.7" stroke-dasharray="1,1.6"/>
<line x1="398.7" y1="313.06" x2="463.9" y2="313.06" stroke="#c4c4c4" stroke-width="0.7" stroke-dasharray="1,1.6"/>
<line x1="465.9" y1="313.06" x2="530.8" y2="313.06" stroke="#c4c4c4" stroke-width="0.7" stroke-dasharray="1,1.6"/>
<rect x="337.50" y="361.77" width="19.8" height="1.04" fill="#555" stroke="#222" stroke-width="0.6"/>
<rect x="371.00" y="358.87" width="19.8" height="3.94" fill="url(#hatch)" stroke="#222" stroke-width="0.6"/>
<path d="M347.40 361.36V362.19M345.60 361.36H349.20" stroke="#7a7a7a" stroke-width="0.75" fill="none"/>
<path d="M380.90 358.46V359.29M379.10 358.46H382.70" stroke="#7a7a7a" stroke-width="0.75" fill="none"/>
<rect x="404.50" y="328.81" width="19.8" height="34.00" fill="#555" stroke="#222" stroke-width="0.6"/>
<rect x="438.00" y="310.98" width="19.8" height="51.83" fill="url(#hatch)" stroke="#222" stroke-width="0.6"/>
<path d="M414.40 326.74V330.88M412.60 326.74H416.20" stroke="#7a7a7a" stroke-width="0.75" fill="none"/>
<path d="M447.90 306.01V315.96M446.10 306.01H449.70" stroke="#7a7a7a" stroke-width="0.75" fill="none"/>
<rect x="471.70" y="357.42" width="19.8" height="5.39" fill="#555" stroke="#222" stroke-width="0.6"/>
<rect x="505.20" y="342.08" width="19.8" height="20.73" fill="url(#hatch)" stroke="#222" stroke-width="0.6"/>
<path d="M481.60 354.52V360.32M479.80 354.52H483.40" stroke="#7a7a7a" stroke-width="0.75" fill="none"/>
<path d="M515.10 340.83V343.32M513.30 340.83H516.90" stroke="#7a7a7a" stroke-width="0.75" fill="none"/>
<rect x="330.7" y="296.47" width="201.1" height="66.34" fill="none" stroke="#262626" stroke-width="1"/>
<line x1="397.7" y1="296.47" x2="397.7" y2="362.81" stroke="#262626" stroke-width="1"/>
<line x1="464.9" y1="296.47" x2="464.9" y2="362.81" stroke="#262626" stroke-width="1"/>
<text x="323.8" y="316.66" font-size="10" text-anchor="end" fill="#111" stroke="#111" stroke-width="0.15">24</text>
<text x="323.8" y="333.24" font-size="10" text-anchor="end" fill="#111" stroke="#111" stroke-width="0.15">16</text>
<text x="323.8" y="349.83" font-size="10" text-anchor="end" fill="#111" stroke="#111" stroke-width="0.15">8</text>
<text x="323.8" y="366.41" font-size="10" text-anchor="end" fill="#111" stroke="#111" stroke-width="0.15">0</text>
<rect x="531.8" y="296.47" width="13.6" height="66.34" fill="#c9c9c9" stroke="#262626" stroke-width="0.9"/>
<text transform="translate(535.00,329.64) rotate(90)" font-size="8.4" font-weight="bold" text-anchor="middle">Test block 4</text>
<line x1="331.7" y1="412.57" x2="396.7" y2="412.57" stroke="#c4c4c4" stroke-width="0.7" stroke-dasharray="1,1.6"/>
<line x1="398.7" y1="412.57" x2="463.9" y2="412.57" stroke="#c4c4c4" stroke-width="0.7" stroke-dasharray="1,1.6"/>
<line x1="465.9" y1="412.57" x2="530.8" y2="412.57" stroke="#c4c4c4" stroke-width="0.7" stroke-dasharray="1,1.6"/>
<line x1="331.7" y1="395.98" x2="396.7" y2="395.98" stroke="#c4c4c4" stroke-width="0.7" stroke-dasharray="1,1.6"/>
<line x1="398.7" y1="395.98" x2="463.9" y2="395.98" stroke="#c4c4c4" stroke-width="0.7" stroke-dasharray="1,1.6"/>
<line x1="465.9" y1="395.98" x2="530.8" y2="395.98" stroke="#c4c4c4" stroke-width="0.7" stroke-dasharray="1,1.6"/>
<line x1="331.7" y1="379.40" x2="396.7" y2="379.40" stroke="#c4c4c4" stroke-width="0.7" stroke-dasharray="1,1.6"/>
<line x1="398.7" y1="379.40" x2="463.9" y2="379.40" stroke="#c4c4c4" stroke-width="0.7" stroke-dasharray="1,1.6"/>
<line x1="465.9" y1="379.40" x2="530.8" y2="379.40" stroke="#c4c4c4" stroke-width="0.7" stroke-dasharray="1,1.6"/>
<rect x="337.50" y="428.32" width="19.8" height="0.83" fill="#555" stroke="#222" stroke-width="0.6"/>
<rect x="371.00" y="427.08" width="19.8" height="2.07" fill="url(#hatch)" stroke="#222" stroke-width="0.6"/>
<path d="M347.40 427.91V428.74M345.60 427.91H349.20" stroke="#7a7a7a" stroke-width="0.75" fill="none"/>
<path d="M380.90 426.66V427.49M379.10 426.66H382.70" stroke="#7a7a7a" stroke-width="0.75" fill="none"/>
<rect x="404.50" y="420.44" width="19.8" height="8.71" fill="#555" stroke="#222" stroke-width="0.6"/>
<rect x="438.00" y="379.40" width="19.8" height="49.75" fill="url(#hatch)" stroke="#222" stroke-width="0.6"/>
<path d="M414.40 417.54V423.35M412.60 417.54H416.20" stroke="#7a7a7a" stroke-width="0.75" fill="none"/>
<path d="M447.90 378.15V380.64M446.10 378.15H449.70" stroke="#7a7a7a" stroke-width="0.75" fill="none"/>
<rect x="471.70" y="427.70" width="19.8" height="1.45" fill="#555" stroke="#222" stroke-width="0.6"/>
<rect x="505.20" y="410.08" width="19.8" height="19.07" fill="url(#hatch)" stroke="#222" stroke-width="0.6"/>
<path d="M481.60 425.63V429.15M479.80 425.63H483.40" stroke="#7a7a7a" stroke-width="0.75" fill="none"/>
<path d="M515.10 407.17V412.98M513.30 407.17H516.90" stroke="#7a7a7a" stroke-width="0.75" fill="none"/>
<rect x="330.7" y="362.81" width="201.1" height="66.34" fill="none" stroke="#262626" stroke-width="1"/>
<line x1="397.7" y1="362.81" x2="397.7" y2="429.15" stroke="#262626" stroke-width="1"/>
<line x1="464.9" y1="362.81" x2="464.9" y2="429.15" stroke="#262626" stroke-width="1"/>
<text x="323.8" y="383.00" font-size="10" text-anchor="end" fill="#111" stroke="#111" stroke-width="0.15">24</text>
<text x="323.8" y="399.58" font-size="10" text-anchor="end" fill="#111" stroke="#111" stroke-width="0.15">16</text>
<text x="323.8" y="416.17" font-size="10" text-anchor="end" fill="#111" stroke="#111" stroke-width="0.15">8</text>
<text x="323.8" y="432.75" font-size="10" text-anchor="end" fill="#111" stroke="#111" stroke-width="0.15">0</text>
<rect x="531.8" y="362.81" width="13.6" height="66.34" fill="#c9c9c9" stroke="#262626" stroke-width="0.9"/>
<text transform="translate(535.00,395.98) rotate(90)" font-size="8.4" font-weight="bold" text-anchor="middle">Test block 5</text>
<text transform="translate(304.0,259) rotate(-90)" font-size="11" font-weight="bold" text-anchor="middle">ΔR / mOhm cm<tspan font-size="7.5" dy="-4.5">2</tspan></text>
<rect x="329.2" y="432.4" width="149.2" height="71.8" fill="#fff" stroke="#9a9a9a" stroke-width="0.9"/>
<rect x="330.2" y="433.3" width="18.2" height="9.2" fill="#555" stroke="#222" stroke-width="0.5"/>
<rect x="330.2" y="443.7" width="18.2" height="9.2" fill="url(#hatch)" stroke="#222" stroke-width="0.5"/>
<text x="351.6" y="441.2" font-size="8.3" fill="#111" stroke="#111" stroke-width="0.18">Reduced R by recovery procedure</text>
<text x="351.6" y="451.3" font-size="8.3" fill="#111" stroke="#111" stroke-width="0.18">Reduced R by the JRC protocol</text>
<text x="330.6" y="461.6" font-size="8.3" fill="#111" stroke="#111" stroke-width="0.18">Recovery 1: 80°C to 30°C</text>
<text x="330.6" y="471.8" font-size="8.3" fill="#111" stroke="#111" stroke-width="0.18">Recovery 2: 80°C to 45°C</text>
<text x="330.6" y="482" font-size="8.3" fill="#111" stroke="#111" stroke-width="0.18">Recovery 3: 80°C to 60°C</text>
<text x="330.6" y="492.2" font-size="8.3" fill="#111" stroke="#111" stroke-width="0.18">Recovery 4: Repetition of Recovery 1</text>
<text x="330.6" y="502.4" font-size="8.3" fill="#111" stroke="#111" stroke-width="0.18">Recovery 5: Repetition of Recovery 3</text>
</svg>
</body></html>
